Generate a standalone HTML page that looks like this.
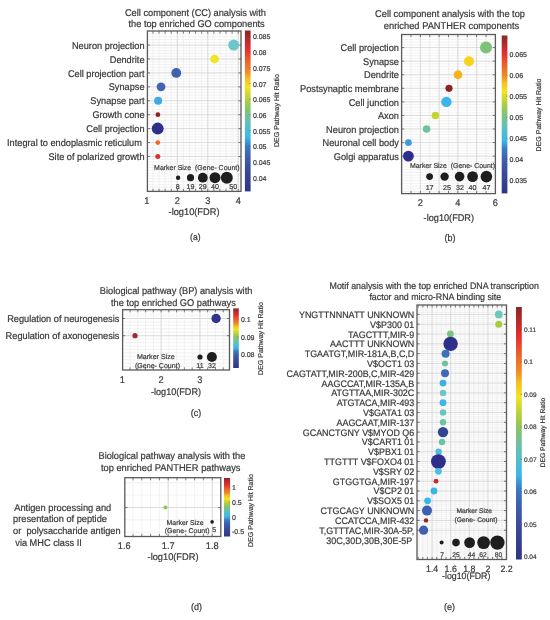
<!DOCTYPE html>
<html><head><meta charset="utf-8"><style>
html,body{margin:0;padding:0;background:#fff;}
svg{display:block;filter:blur(0.45px);}
text{font-family:"Liberation Sans",sans-serif;white-space:pre;text-rendering:geometricPrecision;stroke:#383838;stroke-width:0.2px;}
</style></head><body>
<svg width="550" height="620" viewBox="0 0 550 620">
<rect width="550" height="620" fill="#fff"/>
<rect x="147.40" y="31.00" width="93.60" height="160.40" fill="#fff"/>
<line x1="152.99" y1="31.00" x2="152.99" y2="191.40" stroke="#eaeaea" stroke-width="0.6"/>
<line x1="159.07" y1="31.00" x2="159.07" y2="191.40" stroke="#eaeaea" stroke-width="0.6"/>
<line x1="165.16" y1="31.00" x2="165.16" y2="191.40" stroke="#eaeaea" stroke-width="0.6"/>
<line x1="171.24" y1="31.00" x2="171.24" y2="191.40" stroke="#eaeaea" stroke-width="0.6"/>
<line x1="177.33" y1="31.00" x2="177.33" y2="191.40" stroke="#eaeaea" stroke-width="0.6"/>
<line x1="183.42" y1="31.00" x2="183.42" y2="191.40" stroke="#eaeaea" stroke-width="0.6"/>
<line x1="189.50" y1="31.00" x2="189.50" y2="191.40" stroke="#eaeaea" stroke-width="0.6"/>
<line x1="195.59" y1="31.00" x2="195.59" y2="191.40" stroke="#eaeaea" stroke-width="0.6"/>
<line x1="201.67" y1="31.00" x2="201.67" y2="191.40" stroke="#eaeaea" stroke-width="0.6"/>
<line x1="207.76" y1="31.00" x2="207.76" y2="191.40" stroke="#eaeaea" stroke-width="0.6"/>
<line x1="213.85" y1="31.00" x2="213.85" y2="191.40" stroke="#eaeaea" stroke-width="0.6"/>
<line x1="219.93" y1="31.00" x2="219.93" y2="191.40" stroke="#eaeaea" stroke-width="0.6"/>
<line x1="226.02" y1="31.00" x2="226.02" y2="191.40" stroke="#eaeaea" stroke-width="0.6"/>
<line x1="232.10" y1="31.00" x2="232.10" y2="191.40" stroke="#eaeaea" stroke-width="0.6"/>
<line x1="238.19" y1="31.00" x2="238.19" y2="191.40" stroke="#eaeaea" stroke-width="0.6"/>
<line x1="147.40" y1="31.18" x2="241.00" y2="31.18" stroke="#eaeaea" stroke-width="0.6"/>
<line x1="147.40" y1="33.96" x2="241.00" y2="33.96" stroke="#eaeaea" stroke-width="0.6"/>
<line x1="147.40" y1="36.75" x2="241.00" y2="36.75" stroke="#eaeaea" stroke-width="0.6"/>
<line x1="147.40" y1="39.53" x2="241.00" y2="39.53" stroke="#eaeaea" stroke-width="0.6"/>
<line x1="147.40" y1="42.32" x2="241.00" y2="42.32" stroke="#eaeaea" stroke-width="0.6"/>
<line x1="147.40" y1="45.10" x2="241.00" y2="45.10" stroke="#eaeaea" stroke-width="0.6"/>
<line x1="147.40" y1="47.88" x2="241.00" y2="47.88" stroke="#eaeaea" stroke-width="0.6"/>
<line x1="147.40" y1="50.67" x2="241.00" y2="50.67" stroke="#eaeaea" stroke-width="0.6"/>
<line x1="147.40" y1="53.45" x2="241.00" y2="53.45" stroke="#eaeaea" stroke-width="0.6"/>
<line x1="147.40" y1="56.24" x2="241.00" y2="56.24" stroke="#eaeaea" stroke-width="0.6"/>
<line x1="147.40" y1="59.02" x2="241.00" y2="59.02" stroke="#eaeaea" stroke-width="0.6"/>
<line x1="147.40" y1="61.80" x2="241.00" y2="61.80" stroke="#eaeaea" stroke-width="0.6"/>
<line x1="147.40" y1="64.59" x2="241.00" y2="64.59" stroke="#eaeaea" stroke-width="0.6"/>
<line x1="147.40" y1="67.37" x2="241.00" y2="67.37" stroke="#eaeaea" stroke-width="0.6"/>
<line x1="147.40" y1="70.16" x2="241.00" y2="70.16" stroke="#eaeaea" stroke-width="0.6"/>
<line x1="147.40" y1="72.94" x2="241.00" y2="72.94" stroke="#eaeaea" stroke-width="0.6"/>
<line x1="147.40" y1="75.72" x2="241.00" y2="75.72" stroke="#eaeaea" stroke-width="0.6"/>
<line x1="147.40" y1="78.51" x2="241.00" y2="78.51" stroke="#eaeaea" stroke-width="0.6"/>
<line x1="147.40" y1="81.29" x2="241.00" y2="81.29" stroke="#eaeaea" stroke-width="0.6"/>
<line x1="147.40" y1="84.08" x2="241.00" y2="84.08" stroke="#eaeaea" stroke-width="0.6"/>
<line x1="147.40" y1="86.86" x2="241.00" y2="86.86" stroke="#eaeaea" stroke-width="0.6"/>
<line x1="147.40" y1="89.64" x2="241.00" y2="89.64" stroke="#eaeaea" stroke-width="0.6"/>
<line x1="147.40" y1="92.43" x2="241.00" y2="92.43" stroke="#eaeaea" stroke-width="0.6"/>
<line x1="147.40" y1="95.21" x2="241.00" y2="95.21" stroke="#eaeaea" stroke-width="0.6"/>
<line x1="147.40" y1="98.00" x2="241.00" y2="98.00" stroke="#eaeaea" stroke-width="0.6"/>
<line x1="147.40" y1="100.78" x2="241.00" y2="100.78" stroke="#eaeaea" stroke-width="0.6"/>
<line x1="147.40" y1="103.56" x2="241.00" y2="103.56" stroke="#eaeaea" stroke-width="0.6"/>
<line x1="147.40" y1="106.35" x2="241.00" y2="106.35" stroke="#eaeaea" stroke-width="0.6"/>
<line x1="147.40" y1="109.13" x2="241.00" y2="109.13" stroke="#eaeaea" stroke-width="0.6"/>
<line x1="147.40" y1="111.92" x2="241.00" y2="111.92" stroke="#eaeaea" stroke-width="0.6"/>
<line x1="147.40" y1="114.70" x2="241.00" y2="114.70" stroke="#eaeaea" stroke-width="0.6"/>
<line x1="147.40" y1="117.48" x2="241.00" y2="117.48" stroke="#eaeaea" stroke-width="0.6"/>
<line x1="147.40" y1="120.27" x2="241.00" y2="120.27" stroke="#eaeaea" stroke-width="0.6"/>
<line x1="147.40" y1="123.05" x2="241.00" y2="123.05" stroke="#eaeaea" stroke-width="0.6"/>
<line x1="147.40" y1="125.84" x2="241.00" y2="125.84" stroke="#eaeaea" stroke-width="0.6"/>
<line x1="147.40" y1="128.62" x2="241.00" y2="128.62" stroke="#eaeaea" stroke-width="0.6"/>
<line x1="147.40" y1="131.40" x2="241.00" y2="131.40" stroke="#eaeaea" stroke-width="0.6"/>
<line x1="147.40" y1="134.19" x2="241.00" y2="134.19" stroke="#eaeaea" stroke-width="0.6"/>
<line x1="147.40" y1="136.97" x2="241.00" y2="136.97" stroke="#eaeaea" stroke-width="0.6"/>
<line x1="147.40" y1="139.76" x2="241.00" y2="139.76" stroke="#eaeaea" stroke-width="0.6"/>
<line x1="147.40" y1="142.54" x2="241.00" y2="142.54" stroke="#eaeaea" stroke-width="0.6"/>
<line x1="147.40" y1="145.32" x2="241.00" y2="145.32" stroke="#eaeaea" stroke-width="0.6"/>
<line x1="147.40" y1="148.11" x2="241.00" y2="148.11" stroke="#eaeaea" stroke-width="0.6"/>
<line x1="147.40" y1="150.89" x2="241.00" y2="150.89" stroke="#eaeaea" stroke-width="0.6"/>
<line x1="147.40" y1="153.68" x2="241.00" y2="153.68" stroke="#eaeaea" stroke-width="0.6"/>
<line x1="147.40" y1="156.46" x2="241.00" y2="156.46" stroke="#eaeaea" stroke-width="0.6"/>
<line x1="147.40" y1="159.24" x2="241.00" y2="159.24" stroke="#eaeaea" stroke-width="0.6"/>
<line x1="147.40" y1="162.03" x2="241.00" y2="162.03" stroke="#eaeaea" stroke-width="0.6"/>
<line x1="147.40" y1="164.81" x2="241.00" y2="164.81" stroke="#eaeaea" stroke-width="0.6"/>
<line x1="147.40" y1="167.60" x2="241.00" y2="167.60" stroke="#eaeaea" stroke-width="0.6"/>
<line x1="147.40" y1="170.38" x2="241.00" y2="170.38" stroke="#eaeaea" stroke-width="0.6"/>
<line x1="147.40" y1="173.16" x2="241.00" y2="173.16" stroke="#eaeaea" stroke-width="0.6"/>
<line x1="147.40" y1="175.95" x2="241.00" y2="175.95" stroke="#eaeaea" stroke-width="0.6"/>
<line x1="147.40" y1="178.73" x2="241.00" y2="178.73" stroke="#eaeaea" stroke-width="0.6"/>
<line x1="147.40" y1="181.52" x2="241.00" y2="181.52" stroke="#eaeaea" stroke-width="0.6"/>
<line x1="147.40" y1="184.30" x2="241.00" y2="184.30" stroke="#eaeaea" stroke-width="0.6"/>
<line x1="147.40" y1="187.08" x2="241.00" y2="187.08" stroke="#eaeaea" stroke-width="0.6"/>
<line x1="147.40" y1="189.87" x2="241.00" y2="189.87" stroke="#eaeaea" stroke-width="0.6"/>
<line x1="177.33" y1="31.00" x2="177.33" y2="191.40" stroke="#d2d2d2" stroke-width="0.7"/>
<line x1="207.76" y1="31.00" x2="207.76" y2="191.40" stroke="#d2d2d2" stroke-width="0.7"/>
<line x1="238.19" y1="31.00" x2="238.19" y2="191.40" stroke="#d2d2d2" stroke-width="0.7"/>
<line x1="147.40" y1="45.10" x2="241.00" y2="45.10" stroke="#d2d2d2" stroke-width="0.7"/>
<line x1="147.40" y1="59.02" x2="241.00" y2="59.02" stroke="#d2d2d2" stroke-width="0.7"/>
<line x1="147.40" y1="72.94" x2="241.00" y2="72.94" stroke="#d2d2d2" stroke-width="0.7"/>
<line x1="147.40" y1="86.86" x2="241.00" y2="86.86" stroke="#d2d2d2" stroke-width="0.7"/>
<line x1="147.40" y1="100.78" x2="241.00" y2="100.78" stroke="#d2d2d2" stroke-width="0.7"/>
<line x1="147.40" y1="114.70" x2="241.00" y2="114.70" stroke="#d2d2d2" stroke-width="0.7"/>
<line x1="147.40" y1="128.62" x2="241.00" y2="128.62" stroke="#d2d2d2" stroke-width="0.7"/>
<line x1="147.40" y1="142.54" x2="241.00" y2="142.54" stroke="#d2d2d2" stroke-width="0.7"/>
<line x1="147.40" y1="156.46" x2="241.00" y2="156.46" stroke="#d2d2d2" stroke-width="0.7"/>
<line x1="152.99" y1="191.40" x2="152.99" y2="188.80" stroke="#5a5a5a" stroke-width="0.8"/>
<line x1="152.99" y1="31.00" x2="152.99" y2="33.60" stroke="#5a5a5a" stroke-width="0.8"/>
<line x1="159.07" y1="191.40" x2="159.07" y2="188.80" stroke="#5a5a5a" stroke-width="0.8"/>
<line x1="159.07" y1="31.00" x2="159.07" y2="33.60" stroke="#5a5a5a" stroke-width="0.8"/>
<line x1="165.16" y1="191.40" x2="165.16" y2="188.80" stroke="#5a5a5a" stroke-width="0.8"/>
<line x1="165.16" y1="31.00" x2="165.16" y2="33.60" stroke="#5a5a5a" stroke-width="0.8"/>
<line x1="171.24" y1="191.40" x2="171.24" y2="188.80" stroke="#5a5a5a" stroke-width="0.8"/>
<line x1="171.24" y1="31.00" x2="171.24" y2="33.60" stroke="#5a5a5a" stroke-width="0.8"/>
<line x1="177.33" y1="191.40" x2="177.33" y2="188.80" stroke="#5a5a5a" stroke-width="0.8"/>
<line x1="177.33" y1="31.00" x2="177.33" y2="33.60" stroke="#5a5a5a" stroke-width="0.8"/>
<line x1="183.42" y1="191.40" x2="183.42" y2="188.80" stroke="#5a5a5a" stroke-width="0.8"/>
<line x1="183.42" y1="31.00" x2="183.42" y2="33.60" stroke="#5a5a5a" stroke-width="0.8"/>
<line x1="189.50" y1="191.40" x2="189.50" y2="188.80" stroke="#5a5a5a" stroke-width="0.8"/>
<line x1="189.50" y1="31.00" x2="189.50" y2="33.60" stroke="#5a5a5a" stroke-width="0.8"/>
<line x1="195.59" y1="191.40" x2="195.59" y2="188.80" stroke="#5a5a5a" stroke-width="0.8"/>
<line x1="195.59" y1="31.00" x2="195.59" y2="33.60" stroke="#5a5a5a" stroke-width="0.8"/>
<line x1="201.67" y1="191.40" x2="201.67" y2="188.80" stroke="#5a5a5a" stroke-width="0.8"/>
<line x1="201.67" y1="31.00" x2="201.67" y2="33.60" stroke="#5a5a5a" stroke-width="0.8"/>
<line x1="207.76" y1="191.40" x2="207.76" y2="188.80" stroke="#5a5a5a" stroke-width="0.8"/>
<line x1="207.76" y1="31.00" x2="207.76" y2="33.60" stroke="#5a5a5a" stroke-width="0.8"/>
<line x1="213.85" y1="191.40" x2="213.85" y2="188.80" stroke="#5a5a5a" stroke-width="0.8"/>
<line x1="213.85" y1="31.00" x2="213.85" y2="33.60" stroke="#5a5a5a" stroke-width="0.8"/>
<line x1="219.93" y1="191.40" x2="219.93" y2="188.80" stroke="#5a5a5a" stroke-width="0.8"/>
<line x1="219.93" y1="31.00" x2="219.93" y2="33.60" stroke="#5a5a5a" stroke-width="0.8"/>
<line x1="226.02" y1="191.40" x2="226.02" y2="188.80" stroke="#5a5a5a" stroke-width="0.8"/>
<line x1="226.02" y1="31.00" x2="226.02" y2="33.60" stroke="#5a5a5a" stroke-width="0.8"/>
<line x1="232.10" y1="191.40" x2="232.10" y2="188.80" stroke="#5a5a5a" stroke-width="0.8"/>
<line x1="232.10" y1="31.00" x2="232.10" y2="33.60" stroke="#5a5a5a" stroke-width="0.8"/>
<line x1="238.19" y1="191.40" x2="238.19" y2="188.80" stroke="#5a5a5a" stroke-width="0.8"/>
<line x1="238.19" y1="31.00" x2="238.19" y2="33.60" stroke="#5a5a5a" stroke-width="0.8"/>
<line x1="147.40" y1="45.10" x2="150.00" y2="45.10" stroke="#5a5a5a" stroke-width="0.8"/>
<line x1="241.00" y1="45.10" x2="238.40" y2="45.10" stroke="#5a5a5a" stroke-width="0.8"/>
<line x1="147.40" y1="59.02" x2="150.00" y2="59.02" stroke="#5a5a5a" stroke-width="0.8"/>
<line x1="241.00" y1="59.02" x2="238.40" y2="59.02" stroke="#5a5a5a" stroke-width="0.8"/>
<line x1="147.40" y1="72.94" x2="150.00" y2="72.94" stroke="#5a5a5a" stroke-width="0.8"/>
<line x1="241.00" y1="72.94" x2="238.40" y2="72.94" stroke="#5a5a5a" stroke-width="0.8"/>
<line x1="147.40" y1="86.86" x2="150.00" y2="86.86" stroke="#5a5a5a" stroke-width="0.8"/>
<line x1="241.00" y1="86.86" x2="238.40" y2="86.86" stroke="#5a5a5a" stroke-width="0.8"/>
<line x1="147.40" y1="100.78" x2="150.00" y2="100.78" stroke="#5a5a5a" stroke-width="0.8"/>
<line x1="241.00" y1="100.78" x2="238.40" y2="100.78" stroke="#5a5a5a" stroke-width="0.8"/>
<line x1="147.40" y1="114.70" x2="150.00" y2="114.70" stroke="#5a5a5a" stroke-width="0.8"/>
<line x1="241.00" y1="114.70" x2="238.40" y2="114.70" stroke="#5a5a5a" stroke-width="0.8"/>
<line x1="147.40" y1="128.62" x2="150.00" y2="128.62" stroke="#5a5a5a" stroke-width="0.8"/>
<line x1="241.00" y1="128.62" x2="238.40" y2="128.62" stroke="#5a5a5a" stroke-width="0.8"/>
<line x1="147.40" y1="142.54" x2="150.00" y2="142.54" stroke="#5a5a5a" stroke-width="0.8"/>
<line x1="241.00" y1="142.54" x2="238.40" y2="142.54" stroke="#5a5a5a" stroke-width="0.8"/>
<line x1="147.40" y1="156.46" x2="150.00" y2="156.46" stroke="#5a5a5a" stroke-width="0.8"/>
<line x1="241.00" y1="156.46" x2="238.40" y2="156.46" stroke="#5a5a5a" stroke-width="0.8"/>
<rect x="147.40" y="31.00" width="93.60" height="160.40" fill="none" stroke="#5a5a5a" stroke-width="1.3"/>
<text transform="translate(195.40,16.10) scale(1,1.06)" x="0" y="0" font-size="9.22" text-anchor="middle" fill="#383838" textLength="140.9" lengthAdjust="spacingAndGlyphs">Cell component (CC) analysis with</text>
<text transform="translate(196.60,27.30) scale(1,1.06)" x="0" y="0" font-size="9.22" text-anchor="middle" fill="#383838" textLength="136.3" lengthAdjust="spacingAndGlyphs">the top enriched GO components</text>
<text transform="translate(144.50,48.70) scale(1,1.06)" x="0" y="0" font-size="9.2" text-anchor="end" fill="#383838">Neuron projection</text>
<text transform="translate(144.50,62.62) scale(1,1.06)" x="0" y="0" font-size="9.2" text-anchor="end" fill="#383838">Dendrite</text>
<text transform="translate(144.50,76.54) scale(1,1.06)" x="0" y="0" font-size="9.2" text-anchor="end" fill="#383838">Cell projection part</text>
<text transform="translate(144.50,90.46) scale(1,1.06)" x="0" y="0" font-size="9.2" text-anchor="end" fill="#383838">Synapse</text>
<text transform="translate(144.50,104.38) scale(1,1.06)" x="0" y="0" font-size="9.2" text-anchor="end" fill="#383838">Synapse part</text>
<text transform="translate(144.50,118.30) scale(1,1.06)" x="0" y="0" font-size="9.2" text-anchor="end" fill="#383838">Growth cone</text>
<text transform="translate(144.50,132.22) scale(1,1.06)" x="0" y="0" font-size="9.2" text-anchor="end" fill="#383838">Cell projection</text>
<text transform="translate(141.90,146.14) scale(1,1.06)" x="0" y="0" font-size="9.2" text-anchor="end" fill="#383838">Integral to endoplasmic reticulum</text>
<text transform="translate(144.50,160.06) scale(1,1.06)" x="0" y="0" font-size="9.2" text-anchor="end" fill="#383838">Site of polarized growth</text>
<circle cx="233.70" cy="45.10" r="5.50" fill="#6cc7c9"/>
<circle cx="214.60" cy="59.02" r="4.30" fill="#efe521"/>
<circle cx="176.30" cy="72.94" r="4.90" fill="#3e62b0"/>
<circle cx="161.00" cy="86.86" r="4.40" fill="#4264b3"/>
<circle cx="158.10" cy="100.78" r="4.00" fill="#3ea9e2"/>
<circle cx="157.90" cy="114.70" r="2.40" fill="#8e2222"/>
<circle cx="157.70" cy="128.62" r="6.00" fill="#2d2f8a"/>
<circle cx="157.80" cy="142.54" r="2.40" fill="#f06a2a"/>
<circle cx="157.80" cy="156.46" r="2.50" fill="#dc3030"/>
<text x="154.10" y="169.90" font-size="7.1" text-anchor="start" fill="#383838" textLength="85.4" lengthAdjust="spacingAndGlyphs">Marker Size  (Gene- Count)</text>
<circle cx="178.10" cy="177.70" r="2.20" fill="#1e1e1e"/>
<text x="177.70" y="188.80" font-size="7.1" text-anchor="middle" fill="#383838">8</text>
<circle cx="190.50" cy="177.70" r="3.60" fill="#1e1e1e"/>
<text x="190.50" y="188.80" font-size="7.1" text-anchor="middle" fill="#383838">19</text>
<circle cx="202.80" cy="177.70" r="4.90" fill="#1e1e1e"/>
<text x="202.80" y="188.80" font-size="7.1" text-anchor="middle" fill="#383838">29</text>
<circle cx="215.00" cy="177.70" r="5.50" fill="#1e1e1e"/>
<text x="215.00" y="188.80" font-size="7.1" text-anchor="middle" fill="#383838">40</text>
<circle cx="226.80" cy="177.70" r="6.00" fill="#1e1e1e"/>
<text x="233.20" y="188.80" font-size="7.1" text-anchor="middle" fill="#383838">50</text>
<text transform="translate(146.90,203.80) scale(1,1.06)" x="0" y="0" font-size="9.2" text-anchor="middle" fill="#383838">1</text>
<text transform="translate(177.33,203.80) scale(1,1.06)" x="0" y="0" font-size="9.2" text-anchor="middle" fill="#383838">2</text>
<text transform="translate(207.76,203.80) scale(1,1.06)" x="0" y="0" font-size="9.2" text-anchor="middle" fill="#383838">3</text>
<text transform="translate(238.19,203.80) scale(1,1.06)" x="0" y="0" font-size="9.2" text-anchor="middle" fill="#383838">4</text>
<text transform="translate(194.00,215.00) scale(1,1.06)" x="0" y="0" font-size="9.2" text-anchor="middle" fill="#383838" textLength="50.9" lengthAdjust="spacingAndGlyphs">-log10(FDR)</text>
<defs><linearGradient id="g0" x1="0" y1="1" x2="0" y2="0"><stop offset="0" stop-color="#2e3585"/><stop offset="0.13" stop-color="#3a4a98"/><stop offset="0.22" stop-color="#3d60b0"/><stop offset="0.28" stop-color="#3d7ac0"/><stop offset="0.335" stop-color="#3cb8e8"/><stop offset="0.42" stop-color="#5cc0c0"/><stop offset="0.46" stop-color="#70c0a0"/><stop offset="0.515" stop-color="#88c468"/><stop offset="0.565" stop-color="#b0cc40"/><stop offset="0.645" stop-color="#f0e424"/><stop offset="0.7" stop-color="#f5c020"/><stop offset="0.74" stop-color="#f08e28"/><stop offset="0.8" stop-color="#eb6a2c"/><stop offset="0.88" stop-color="#e83030"/><stop offset="1.0" stop-color="#8b2525"/></linearGradient></defs>
<rect x="244.90" y="30.50" width="5.70" height="160.90" fill="url(#g0)"/>
<line x1="250.60" y1="36.40" x2="249.40" y2="36.40" stroke="#5a5a5a" stroke-width="0.6"/>
<text x="252.90" y="39.40" font-size="7.0" text-anchor="start" fill="#383838">0.085</text>
<line x1="250.60" y1="52.10" x2="249.40" y2="52.10" stroke="#5a5a5a" stroke-width="0.6"/>
<text x="252.90" y="55.10" font-size="7.0" text-anchor="start" fill="#383838">0.08</text>
<line x1="250.60" y1="67.80" x2="249.40" y2="67.80" stroke="#5a5a5a" stroke-width="0.6"/>
<text x="252.90" y="70.80" font-size="7.0" text-anchor="start" fill="#383838">0.075</text>
<line x1="250.60" y1="83.50" x2="249.40" y2="83.50" stroke="#5a5a5a" stroke-width="0.6"/>
<text x="252.90" y="86.50" font-size="7.0" text-anchor="start" fill="#383838">0.07</text>
<line x1="250.60" y1="99.20" x2="249.40" y2="99.20" stroke="#5a5a5a" stroke-width="0.6"/>
<text x="252.90" y="102.20" font-size="7.0" text-anchor="start" fill="#383838">0.065</text>
<line x1="250.60" y1="114.90" x2="249.40" y2="114.90" stroke="#5a5a5a" stroke-width="0.6"/>
<text x="252.90" y="117.90" font-size="7.0" text-anchor="start" fill="#383838">0.06</text>
<line x1="250.60" y1="130.60" x2="249.40" y2="130.60" stroke="#5a5a5a" stroke-width="0.6"/>
<text x="252.90" y="133.60" font-size="7.0" text-anchor="start" fill="#383838">0.055</text>
<line x1="250.60" y1="146.30" x2="249.40" y2="146.30" stroke="#5a5a5a" stroke-width="0.6"/>
<text x="252.90" y="149.30" font-size="7.0" text-anchor="start" fill="#383838">0.05</text>
<line x1="250.60" y1="162.00" x2="249.40" y2="162.00" stroke="#5a5a5a" stroke-width="0.6"/>
<text x="252.90" y="165.00" font-size="7.0" text-anchor="start" fill="#383838">0.045</text>
<line x1="250.60" y1="177.70" x2="249.40" y2="177.70" stroke="#5a5a5a" stroke-width="0.6"/>
<text x="252.90" y="180.70" font-size="7.0" text-anchor="start" fill="#383838">0.04</text>
<text transform="translate(279.00,110.60) rotate(-90)" x="0" y="0" font-size="7.0" text-anchor="middle" fill="#383838">DEG Pathway Hit Ratio</text>
<text transform="translate(195.30,240.00) scale(1,1.06)" x="0" y="0" font-size="8.6" text-anchor="middle" fill="#383838">(a)</text>
<rect x="401.60" y="34.50" width="93.80" height="159.10" fill="#fff"/>
<line x1="410.98" y1="34.50" x2="410.98" y2="193.60" stroke="#eaeaea" stroke-width="0.6"/>
<line x1="420.36" y1="34.50" x2="420.36" y2="193.60" stroke="#eaeaea" stroke-width="0.6"/>
<line x1="429.74" y1="34.50" x2="429.74" y2="193.60" stroke="#eaeaea" stroke-width="0.6"/>
<line x1="439.12" y1="34.50" x2="439.12" y2="193.60" stroke="#eaeaea" stroke-width="0.6"/>
<line x1="448.50" y1="34.50" x2="448.50" y2="193.60" stroke="#eaeaea" stroke-width="0.6"/>
<line x1="457.88" y1="34.50" x2="457.88" y2="193.60" stroke="#eaeaea" stroke-width="0.6"/>
<line x1="467.26" y1="34.50" x2="467.26" y2="193.60" stroke="#eaeaea" stroke-width="0.6"/>
<line x1="476.64" y1="34.50" x2="476.64" y2="193.60" stroke="#eaeaea" stroke-width="0.6"/>
<line x1="486.02" y1="34.50" x2="486.02" y2="193.60" stroke="#eaeaea" stroke-width="0.6"/>
<line x1="401.60" y1="36.74" x2="495.40" y2="36.74" stroke="#eaeaea" stroke-width="0.6"/>
<line x1="401.60" y1="39.46" x2="495.40" y2="39.46" stroke="#eaeaea" stroke-width="0.6"/>
<line x1="401.60" y1="42.17" x2="495.40" y2="42.17" stroke="#eaeaea" stroke-width="0.6"/>
<line x1="401.60" y1="44.89" x2="495.40" y2="44.89" stroke="#eaeaea" stroke-width="0.6"/>
<line x1="401.60" y1="47.60" x2="495.40" y2="47.60" stroke="#eaeaea" stroke-width="0.6"/>
<line x1="401.60" y1="50.31" x2="495.40" y2="50.31" stroke="#eaeaea" stroke-width="0.6"/>
<line x1="401.60" y1="53.03" x2="495.40" y2="53.03" stroke="#eaeaea" stroke-width="0.6"/>
<line x1="401.60" y1="55.74" x2="495.40" y2="55.74" stroke="#eaeaea" stroke-width="0.6"/>
<line x1="401.60" y1="58.46" x2="495.40" y2="58.46" stroke="#eaeaea" stroke-width="0.6"/>
<line x1="401.60" y1="61.17" x2="495.40" y2="61.17" stroke="#eaeaea" stroke-width="0.6"/>
<line x1="401.60" y1="63.88" x2="495.40" y2="63.88" stroke="#eaeaea" stroke-width="0.6"/>
<line x1="401.60" y1="66.60" x2="495.40" y2="66.60" stroke="#eaeaea" stroke-width="0.6"/>
<line x1="401.60" y1="69.31" x2="495.40" y2="69.31" stroke="#eaeaea" stroke-width="0.6"/>
<line x1="401.60" y1="72.03" x2="495.40" y2="72.03" stroke="#eaeaea" stroke-width="0.6"/>
<line x1="401.60" y1="74.74" x2="495.40" y2="74.74" stroke="#eaeaea" stroke-width="0.6"/>
<line x1="401.60" y1="77.45" x2="495.40" y2="77.45" stroke="#eaeaea" stroke-width="0.6"/>
<line x1="401.60" y1="80.17" x2="495.40" y2="80.17" stroke="#eaeaea" stroke-width="0.6"/>
<line x1="401.60" y1="82.88" x2="495.40" y2="82.88" stroke="#eaeaea" stroke-width="0.6"/>
<line x1="401.60" y1="85.60" x2="495.40" y2="85.60" stroke="#eaeaea" stroke-width="0.6"/>
<line x1="401.60" y1="88.31" x2="495.40" y2="88.31" stroke="#eaeaea" stroke-width="0.6"/>
<line x1="401.60" y1="91.02" x2="495.40" y2="91.02" stroke="#eaeaea" stroke-width="0.6"/>
<line x1="401.60" y1="93.74" x2="495.40" y2="93.74" stroke="#eaeaea" stroke-width="0.6"/>
<line x1="401.60" y1="96.45" x2="495.40" y2="96.45" stroke="#eaeaea" stroke-width="0.6"/>
<line x1="401.60" y1="99.17" x2="495.40" y2="99.17" stroke="#eaeaea" stroke-width="0.6"/>
<line x1="401.60" y1="101.88" x2="495.40" y2="101.88" stroke="#eaeaea" stroke-width="0.6"/>
<line x1="401.60" y1="104.59" x2="495.40" y2="104.59" stroke="#eaeaea" stroke-width="0.6"/>
<line x1="401.60" y1="107.31" x2="495.40" y2="107.31" stroke="#eaeaea" stroke-width="0.6"/>
<line x1="401.60" y1="110.02" x2="495.40" y2="110.02" stroke="#eaeaea" stroke-width="0.6"/>
<line x1="401.60" y1="112.74" x2="495.40" y2="112.74" stroke="#eaeaea" stroke-width="0.6"/>
<line x1="401.60" y1="115.45" x2="495.40" y2="115.45" stroke="#eaeaea" stroke-width="0.6"/>
<line x1="401.60" y1="118.16" x2="495.40" y2="118.16" stroke="#eaeaea" stroke-width="0.6"/>
<line x1="401.60" y1="120.88" x2="495.40" y2="120.88" stroke="#eaeaea" stroke-width="0.6"/>
<line x1="401.60" y1="123.59" x2="495.40" y2="123.59" stroke="#eaeaea" stroke-width="0.6"/>
<line x1="401.60" y1="126.31" x2="495.40" y2="126.31" stroke="#eaeaea" stroke-width="0.6"/>
<line x1="401.60" y1="129.02" x2="495.40" y2="129.02" stroke="#eaeaea" stroke-width="0.6"/>
<line x1="401.60" y1="131.73" x2="495.40" y2="131.73" stroke="#eaeaea" stroke-width="0.6"/>
<line x1="401.60" y1="134.45" x2="495.40" y2="134.45" stroke="#eaeaea" stroke-width="0.6"/>
<line x1="401.60" y1="137.16" x2="495.40" y2="137.16" stroke="#eaeaea" stroke-width="0.6"/>
<line x1="401.60" y1="139.88" x2="495.40" y2="139.88" stroke="#eaeaea" stroke-width="0.6"/>
<line x1="401.60" y1="142.59" x2="495.40" y2="142.59" stroke="#eaeaea" stroke-width="0.6"/>
<line x1="401.60" y1="145.30" x2="495.40" y2="145.30" stroke="#eaeaea" stroke-width="0.6"/>
<line x1="401.60" y1="148.02" x2="495.40" y2="148.02" stroke="#eaeaea" stroke-width="0.6"/>
<line x1="401.60" y1="150.73" x2="495.40" y2="150.73" stroke="#eaeaea" stroke-width="0.6"/>
<line x1="401.60" y1="153.45" x2="495.40" y2="153.45" stroke="#eaeaea" stroke-width="0.6"/>
<line x1="401.60" y1="156.16" x2="495.40" y2="156.16" stroke="#eaeaea" stroke-width="0.6"/>
<line x1="401.60" y1="158.87" x2="495.40" y2="158.87" stroke="#eaeaea" stroke-width="0.6"/>
<line x1="401.60" y1="161.59" x2="495.40" y2="161.59" stroke="#eaeaea" stroke-width="0.6"/>
<line x1="401.60" y1="164.30" x2="495.40" y2="164.30" stroke="#eaeaea" stroke-width="0.6"/>
<line x1="401.60" y1="167.02" x2="495.40" y2="167.02" stroke="#eaeaea" stroke-width="0.6"/>
<line x1="401.60" y1="169.73" x2="495.40" y2="169.73" stroke="#eaeaea" stroke-width="0.6"/>
<line x1="401.60" y1="172.44" x2="495.40" y2="172.44" stroke="#eaeaea" stroke-width="0.6"/>
<line x1="401.60" y1="175.16" x2="495.40" y2="175.16" stroke="#eaeaea" stroke-width="0.6"/>
<line x1="401.60" y1="177.87" x2="495.40" y2="177.87" stroke="#eaeaea" stroke-width="0.6"/>
<line x1="401.60" y1="180.59" x2="495.40" y2="180.59" stroke="#eaeaea" stroke-width="0.6"/>
<line x1="401.60" y1="183.30" x2="495.40" y2="183.30" stroke="#eaeaea" stroke-width="0.6"/>
<line x1="401.60" y1="186.01" x2="495.40" y2="186.01" stroke="#eaeaea" stroke-width="0.6"/>
<line x1="401.60" y1="188.73" x2="495.40" y2="188.73" stroke="#eaeaea" stroke-width="0.6"/>
<line x1="401.60" y1="191.44" x2="495.40" y2="191.44" stroke="#eaeaea" stroke-width="0.6"/>
<line x1="420.36" y1="34.50" x2="420.36" y2="193.60" stroke="#d2d2d2" stroke-width="0.7"/>
<line x1="439.12" y1="34.50" x2="439.12" y2="193.60" stroke="#d2d2d2" stroke-width="0.7"/>
<line x1="457.88" y1="34.50" x2="457.88" y2="193.60" stroke="#d2d2d2" stroke-width="0.7"/>
<line x1="476.64" y1="34.50" x2="476.64" y2="193.60" stroke="#d2d2d2" stroke-width="0.7"/>
<line x1="401.60" y1="47.60" x2="495.40" y2="47.60" stroke="#d2d2d2" stroke-width="0.7"/>
<line x1="401.60" y1="61.17" x2="495.40" y2="61.17" stroke="#d2d2d2" stroke-width="0.7"/>
<line x1="401.60" y1="74.74" x2="495.40" y2="74.74" stroke="#d2d2d2" stroke-width="0.7"/>
<line x1="401.60" y1="88.31" x2="495.40" y2="88.31" stroke="#d2d2d2" stroke-width="0.7"/>
<line x1="401.60" y1="101.88" x2="495.40" y2="101.88" stroke="#d2d2d2" stroke-width="0.7"/>
<line x1="401.60" y1="115.45" x2="495.40" y2="115.45" stroke="#d2d2d2" stroke-width="0.7"/>
<line x1="401.60" y1="129.02" x2="495.40" y2="129.02" stroke="#d2d2d2" stroke-width="0.7"/>
<line x1="401.60" y1="142.59" x2="495.40" y2="142.59" stroke="#d2d2d2" stroke-width="0.7"/>
<line x1="401.60" y1="156.16" x2="495.40" y2="156.16" stroke="#d2d2d2" stroke-width="0.7"/>
<line x1="401.60" y1="193.60" x2="401.60" y2="191.00" stroke="#5a5a5a" stroke-width="0.8"/>
<line x1="401.60" y1="34.50" x2="401.60" y2="37.10" stroke="#5a5a5a" stroke-width="0.8"/>
<line x1="410.98" y1="193.60" x2="410.98" y2="191.00" stroke="#5a5a5a" stroke-width="0.8"/>
<line x1="410.98" y1="34.50" x2="410.98" y2="37.10" stroke="#5a5a5a" stroke-width="0.8"/>
<line x1="420.36" y1="193.60" x2="420.36" y2="191.00" stroke="#5a5a5a" stroke-width="0.8"/>
<line x1="420.36" y1="34.50" x2="420.36" y2="37.10" stroke="#5a5a5a" stroke-width="0.8"/>
<line x1="429.74" y1="193.60" x2="429.74" y2="191.00" stroke="#5a5a5a" stroke-width="0.8"/>
<line x1="429.74" y1="34.50" x2="429.74" y2="37.10" stroke="#5a5a5a" stroke-width="0.8"/>
<line x1="439.12" y1="193.60" x2="439.12" y2="191.00" stroke="#5a5a5a" stroke-width="0.8"/>
<line x1="439.12" y1="34.50" x2="439.12" y2="37.10" stroke="#5a5a5a" stroke-width="0.8"/>
<line x1="448.50" y1="193.60" x2="448.50" y2="191.00" stroke="#5a5a5a" stroke-width="0.8"/>
<line x1="448.50" y1="34.50" x2="448.50" y2="37.10" stroke="#5a5a5a" stroke-width="0.8"/>
<line x1="457.88" y1="193.60" x2="457.88" y2="191.00" stroke="#5a5a5a" stroke-width="0.8"/>
<line x1="457.88" y1="34.50" x2="457.88" y2="37.10" stroke="#5a5a5a" stroke-width="0.8"/>
<line x1="467.26" y1="193.60" x2="467.26" y2="191.00" stroke="#5a5a5a" stroke-width="0.8"/>
<line x1="467.26" y1="34.50" x2="467.26" y2="37.10" stroke="#5a5a5a" stroke-width="0.8"/>
<line x1="476.64" y1="193.60" x2="476.64" y2="191.00" stroke="#5a5a5a" stroke-width="0.8"/>
<line x1="476.64" y1="34.50" x2="476.64" y2="37.10" stroke="#5a5a5a" stroke-width="0.8"/>
<line x1="486.02" y1="193.60" x2="486.02" y2="191.00" stroke="#5a5a5a" stroke-width="0.8"/>
<line x1="486.02" y1="34.50" x2="486.02" y2="37.10" stroke="#5a5a5a" stroke-width="0.8"/>
<line x1="401.60" y1="47.60" x2="404.20" y2="47.60" stroke="#5a5a5a" stroke-width="0.8"/>
<line x1="495.40" y1="47.60" x2="492.80" y2="47.60" stroke="#5a5a5a" stroke-width="0.8"/>
<line x1="401.60" y1="61.17" x2="404.20" y2="61.17" stroke="#5a5a5a" stroke-width="0.8"/>
<line x1="495.40" y1="61.17" x2="492.80" y2="61.17" stroke="#5a5a5a" stroke-width="0.8"/>
<line x1="401.60" y1="74.74" x2="404.20" y2="74.74" stroke="#5a5a5a" stroke-width="0.8"/>
<line x1="495.40" y1="74.74" x2="492.80" y2="74.74" stroke="#5a5a5a" stroke-width="0.8"/>
<line x1="401.60" y1="88.31" x2="404.20" y2="88.31" stroke="#5a5a5a" stroke-width="0.8"/>
<line x1="495.40" y1="88.31" x2="492.80" y2="88.31" stroke="#5a5a5a" stroke-width="0.8"/>
<line x1="401.60" y1="101.88" x2="404.20" y2="101.88" stroke="#5a5a5a" stroke-width="0.8"/>
<line x1="495.40" y1="101.88" x2="492.80" y2="101.88" stroke="#5a5a5a" stroke-width="0.8"/>
<line x1="401.60" y1="115.45" x2="404.20" y2="115.45" stroke="#5a5a5a" stroke-width="0.8"/>
<line x1="495.40" y1="115.45" x2="492.80" y2="115.45" stroke="#5a5a5a" stroke-width="0.8"/>
<line x1="401.60" y1="129.02" x2="404.20" y2="129.02" stroke="#5a5a5a" stroke-width="0.8"/>
<line x1="495.40" y1="129.02" x2="492.80" y2="129.02" stroke="#5a5a5a" stroke-width="0.8"/>
<line x1="401.60" y1="142.59" x2="404.20" y2="142.59" stroke="#5a5a5a" stroke-width="0.8"/>
<line x1="495.40" y1="142.59" x2="492.80" y2="142.59" stroke="#5a5a5a" stroke-width="0.8"/>
<line x1="401.60" y1="156.16" x2="404.20" y2="156.16" stroke="#5a5a5a" stroke-width="0.8"/>
<line x1="495.40" y1="156.16" x2="492.80" y2="156.16" stroke="#5a5a5a" stroke-width="0.8"/>
<rect x="401.60" y="34.50" width="93.80" height="159.10" fill="none" stroke="#5a5a5a" stroke-width="1.3"/>
<text transform="translate(450.00,16.90) scale(1,1.06)" x="0" y="0" font-size="9.25" text-anchor="middle" fill="#383838" textLength="149.8" lengthAdjust="spacingAndGlyphs">Cell component analysis with the top</text>
<text transform="translate(451.50,29.00) scale(1,1.06)" x="0" y="0" font-size="9.25" text-anchor="middle" fill="#383838" textLength="135.3" lengthAdjust="spacingAndGlyphs">enriched PANTHER components</text>
<text transform="translate(398.90,51.30) scale(1,1.06)" x="0" y="0" font-size="9.22" text-anchor="end" fill="#383838">Cell projection</text>
<text transform="translate(398.90,64.87) scale(1,1.06)" x="0" y="0" font-size="9.22" text-anchor="end" fill="#383838">Synapse</text>
<text transform="translate(398.90,78.44) scale(1,1.06)" x="0" y="0" font-size="9.22" text-anchor="end" fill="#383838">Dendrite</text>
<text transform="translate(398.90,92.01) scale(1,1.06)" x="0" y="0" font-size="9.22" text-anchor="end" fill="#383838">Postsynaptic membrane</text>
<text transform="translate(398.90,105.58) scale(1,1.06)" x="0" y="0" font-size="9.22" text-anchor="end" fill="#383838">Cell junction</text>
<text transform="translate(398.90,119.15) scale(1,1.06)" x="0" y="0" font-size="9.22" text-anchor="end" fill="#383838">Axon</text>
<text transform="translate(398.90,132.72) scale(1,1.06)" x="0" y="0" font-size="9.22" text-anchor="end" fill="#383838">Neuron projection</text>
<text transform="translate(398.90,146.29) scale(1,1.06)" x="0" y="0" font-size="9.22" text-anchor="end" fill="#383838">Neuronal cell body</text>
<text transform="translate(398.90,159.86) scale(1,1.06)" x="0" y="0" font-size="9.22" text-anchor="end" fill="#383838">Golgi apparatus</text>
<circle cx="486.00" cy="47.60" r="6.00" fill="#7cc27a"/>
<circle cx="469.00" cy="61.17" r="5.00" fill="#f7d21d"/>
<circle cx="458.00" cy="74.74" r="4.40" fill="#f8b220"/>
<circle cx="449.00" cy="88.31" r="3.60" fill="#8a2424"/>
<circle cx="446.40" cy="101.88" r="5.20" fill="#3ab6ea"/>
<circle cx="435.40" cy="115.45" r="3.80" fill="#c5d52f"/>
<circle cx="426.60" cy="129.02" r="3.80" fill="#6dc39b"/>
<circle cx="408.40" cy="142.59" r="3.40" fill="#3d9bde"/>
<circle cx="408.40" cy="156.16" r="5.40" fill="#2d2f8c"/>
<text x="410.00" y="168.40" font-size="7.1" text-anchor="start" fill="#383838" textLength="85.0" lengthAdjust="spacingAndGlyphs">Marker Size  (Gene- Count)</text>
<circle cx="429.60" cy="176.60" r="3.40" fill="#1e1e1e"/>
<text x="429.60" y="189.50" font-size="7.1" text-anchor="middle" fill="#383838">17</text>
<circle cx="444.60" cy="176.60" r="4.20" fill="#1e1e1e"/>
<text x="447.00" y="189.50" font-size="7.1" text-anchor="middle" fill="#383838">25</text>
<circle cx="459.60" cy="176.60" r="4.80" fill="#1e1e1e"/>
<text x="460.00" y="189.50" font-size="7.1" text-anchor="middle" fill="#383838">32</text>
<circle cx="472.60" cy="176.60" r="5.40" fill="#1e1e1e"/>
<text x="472.40" y="189.50" font-size="7.1" text-anchor="middle" fill="#383838">40</text>
<circle cx="486.40" cy="176.60" r="5.80" fill="#1e1e1e"/>
<text x="486.40" y="189.50" font-size="7.1" text-anchor="middle" fill="#383838">47</text>
<text transform="translate(420.36,205.60) scale(1,1.06)" x="0" y="0" font-size="9.2" text-anchor="middle" fill="#383838">2</text>
<text transform="translate(457.88,205.60) scale(1,1.06)" x="0" y="0" font-size="9.2" text-anchor="middle" fill="#383838">4</text>
<text transform="translate(495.40,205.60) scale(1,1.06)" x="0" y="0" font-size="9.2" text-anchor="middle" fill="#383838">6</text>
<text transform="translate(448.80,221.00) scale(1,1.06)" x="0" y="0" font-size="9.2" text-anchor="middle" fill="#383838" textLength="50.4" lengthAdjust="spacingAndGlyphs">-log10(FDR)</text>
<defs><linearGradient id="g1" x1="0" y1="1" x2="0" y2="0"><stop offset="0" stop-color="#2e3585"/><stop offset="0.13" stop-color="#3a4a98"/><stop offset="0.22" stop-color="#3d60b0"/><stop offset="0.28" stop-color="#3d7ac0"/><stop offset="0.335" stop-color="#3cb8e8"/><stop offset="0.42" stop-color="#5cc0c0"/><stop offset="0.46" stop-color="#70c0a0"/><stop offset="0.515" stop-color="#88c468"/><stop offset="0.565" stop-color="#b0cc40"/><stop offset="0.645" stop-color="#f0e424"/><stop offset="0.7" stop-color="#f5c020"/><stop offset="0.74" stop-color="#f08e28"/><stop offset="0.8" stop-color="#eb6a2c"/><stop offset="0.88" stop-color="#e83030"/><stop offset="1.0" stop-color="#8b2525"/></linearGradient></defs>
<rect x="501.70" y="35.50" width="5.70" height="157.90" fill="url(#g1)"/>
<line x1="507.40" y1="54.00" x2="506.20" y2="54.00" stroke="#5a5a5a" stroke-width="0.6"/>
<text x="509.50" y="56.50" font-size="7.0" text-anchor="start" fill="#383838">0.065</text>
<line x1="507.40" y1="75.04" x2="506.20" y2="75.04" stroke="#5a5a5a" stroke-width="0.6"/>
<text x="509.50" y="77.54" font-size="7.0" text-anchor="start" fill="#383838">0.06</text>
<line x1="507.40" y1="96.08" x2="506.20" y2="96.08" stroke="#5a5a5a" stroke-width="0.6"/>
<text x="509.50" y="98.58" font-size="7.0" text-anchor="start" fill="#383838">0.055</text>
<line x1="507.40" y1="117.12" x2="506.20" y2="117.12" stroke="#5a5a5a" stroke-width="0.6"/>
<text x="509.50" y="119.62" font-size="7.0" text-anchor="start" fill="#383838">0.05</text>
<line x1="507.40" y1="138.16" x2="506.20" y2="138.16" stroke="#5a5a5a" stroke-width="0.6"/>
<text x="509.50" y="140.66" font-size="7.0" text-anchor="start" fill="#383838">0.045</text>
<line x1="507.40" y1="159.20" x2="506.20" y2="159.20" stroke="#5a5a5a" stroke-width="0.6"/>
<text x="509.50" y="161.70" font-size="7.0" text-anchor="start" fill="#383838">0.04</text>
<line x1="507.40" y1="180.24" x2="506.20" y2="180.24" stroke="#5a5a5a" stroke-width="0.6"/>
<text x="509.50" y="182.74" font-size="7.0" text-anchor="start" fill="#383838">0.035</text>
<text transform="translate(541.20,115.00) rotate(-90)" x="0" y="0" font-size="7.0" text-anchor="middle" fill="#383838">DEG Pathway Hit Ratio</text>
<text transform="translate(450.00,240.80) scale(1,1.06)" x="0" y="0" font-size="9.0" text-anchor="middle" fill="#383838">(b)</text>
<rect x="122.60" y="309.70" width="106.90" height="60.30" fill="#fff"/>
<line x1="130.06" y1="309.70" x2="130.06" y2="370.00" stroke="#eaeaea" stroke-width="0.6"/>
<line x1="137.82" y1="309.70" x2="137.82" y2="370.00" stroke="#eaeaea" stroke-width="0.6"/>
<line x1="145.58" y1="309.70" x2="145.58" y2="370.00" stroke="#eaeaea" stroke-width="0.6"/>
<line x1="153.34" y1="309.70" x2="153.34" y2="370.00" stroke="#eaeaea" stroke-width="0.6"/>
<line x1="161.10" y1="309.70" x2="161.10" y2="370.00" stroke="#eaeaea" stroke-width="0.6"/>
<line x1="168.86" y1="309.70" x2="168.86" y2="370.00" stroke="#eaeaea" stroke-width="0.6"/>
<line x1="176.62" y1="309.70" x2="176.62" y2="370.00" stroke="#eaeaea" stroke-width="0.6"/>
<line x1="184.38" y1="309.70" x2="184.38" y2="370.00" stroke="#eaeaea" stroke-width="0.6"/>
<line x1="192.14" y1="309.70" x2="192.14" y2="370.00" stroke="#eaeaea" stroke-width="0.6"/>
<line x1="199.90" y1="309.70" x2="199.90" y2="370.00" stroke="#eaeaea" stroke-width="0.6"/>
<line x1="207.66" y1="309.70" x2="207.66" y2="370.00" stroke="#eaeaea" stroke-width="0.6"/>
<line x1="215.42" y1="309.70" x2="215.42" y2="370.00" stroke="#eaeaea" stroke-width="0.6"/>
<line x1="223.18" y1="309.70" x2="223.18" y2="370.00" stroke="#eaeaea" stroke-width="0.6"/>
<line x1="122.60" y1="311.62" x2="229.50" y2="311.62" stroke="#eaeaea" stroke-width="0.6"/>
<line x1="122.60" y1="315.06" x2="229.50" y2="315.06" stroke="#eaeaea" stroke-width="0.6"/>
<line x1="122.60" y1="318.50" x2="229.50" y2="318.50" stroke="#eaeaea" stroke-width="0.6"/>
<line x1="122.60" y1="321.94" x2="229.50" y2="321.94" stroke="#eaeaea" stroke-width="0.6"/>
<line x1="122.60" y1="325.38" x2="229.50" y2="325.38" stroke="#eaeaea" stroke-width="0.6"/>
<line x1="122.60" y1="328.82" x2="229.50" y2="328.82" stroke="#eaeaea" stroke-width="0.6"/>
<line x1="122.60" y1="332.26" x2="229.50" y2="332.26" stroke="#eaeaea" stroke-width="0.6"/>
<line x1="122.60" y1="335.70" x2="229.50" y2="335.70" stroke="#eaeaea" stroke-width="0.6"/>
<line x1="122.60" y1="339.14" x2="229.50" y2="339.14" stroke="#eaeaea" stroke-width="0.6"/>
<line x1="122.60" y1="342.58" x2="229.50" y2="342.58" stroke="#eaeaea" stroke-width="0.6"/>
<line x1="122.60" y1="346.02" x2="229.50" y2="346.02" stroke="#eaeaea" stroke-width="0.6"/>
<line x1="122.60" y1="349.46" x2="229.50" y2="349.46" stroke="#eaeaea" stroke-width="0.6"/>
<line x1="122.60" y1="352.90" x2="229.50" y2="352.90" stroke="#eaeaea" stroke-width="0.6"/>
<line x1="122.60" y1="356.34" x2="229.50" y2="356.34" stroke="#eaeaea" stroke-width="0.6"/>
<line x1="122.60" y1="359.78" x2="229.50" y2="359.78" stroke="#eaeaea" stroke-width="0.6"/>
<line x1="122.60" y1="363.22" x2="229.50" y2="363.22" stroke="#eaeaea" stroke-width="0.6"/>
<line x1="122.60" y1="366.66" x2="229.50" y2="366.66" stroke="#eaeaea" stroke-width="0.6"/>
<line x1="161.10" y1="309.70" x2="161.10" y2="370.00" stroke="#d2d2d2" stroke-width="0.7"/>
<line x1="199.90" y1="309.70" x2="199.90" y2="370.00" stroke="#d2d2d2" stroke-width="0.7"/>
<line x1="122.60" y1="318.50" x2="229.50" y2="318.50" stroke="#d2d2d2" stroke-width="0.7"/>
<line x1="122.60" y1="335.70" x2="229.50" y2="335.70" stroke="#d2d2d2" stroke-width="0.7"/>
<line x1="130.06" y1="370.00" x2="130.06" y2="367.40" stroke="#5a5a5a" stroke-width="0.8"/>
<line x1="130.06" y1="309.70" x2="130.06" y2="312.30" stroke="#5a5a5a" stroke-width="0.8"/>
<line x1="137.82" y1="370.00" x2="137.82" y2="367.40" stroke="#5a5a5a" stroke-width="0.8"/>
<line x1="137.82" y1="309.70" x2="137.82" y2="312.30" stroke="#5a5a5a" stroke-width="0.8"/>
<line x1="145.58" y1="370.00" x2="145.58" y2="367.40" stroke="#5a5a5a" stroke-width="0.8"/>
<line x1="145.58" y1="309.70" x2="145.58" y2="312.30" stroke="#5a5a5a" stroke-width="0.8"/>
<line x1="153.34" y1="370.00" x2="153.34" y2="367.40" stroke="#5a5a5a" stroke-width="0.8"/>
<line x1="153.34" y1="309.70" x2="153.34" y2="312.30" stroke="#5a5a5a" stroke-width="0.8"/>
<line x1="161.10" y1="370.00" x2="161.10" y2="367.40" stroke="#5a5a5a" stroke-width="0.8"/>
<line x1="161.10" y1="309.70" x2="161.10" y2="312.30" stroke="#5a5a5a" stroke-width="0.8"/>
<line x1="168.86" y1="370.00" x2="168.86" y2="367.40" stroke="#5a5a5a" stroke-width="0.8"/>
<line x1="168.86" y1="309.70" x2="168.86" y2="312.30" stroke="#5a5a5a" stroke-width="0.8"/>
<line x1="176.62" y1="370.00" x2="176.62" y2="367.40" stroke="#5a5a5a" stroke-width="0.8"/>
<line x1="176.62" y1="309.70" x2="176.62" y2="312.30" stroke="#5a5a5a" stroke-width="0.8"/>
<line x1="184.38" y1="370.00" x2="184.38" y2="367.40" stroke="#5a5a5a" stroke-width="0.8"/>
<line x1="184.38" y1="309.70" x2="184.38" y2="312.30" stroke="#5a5a5a" stroke-width="0.8"/>
<line x1="192.14" y1="370.00" x2="192.14" y2="367.40" stroke="#5a5a5a" stroke-width="0.8"/>
<line x1="192.14" y1="309.70" x2="192.14" y2="312.30" stroke="#5a5a5a" stroke-width="0.8"/>
<line x1="199.90" y1="370.00" x2="199.90" y2="367.40" stroke="#5a5a5a" stroke-width="0.8"/>
<line x1="199.90" y1="309.70" x2="199.90" y2="312.30" stroke="#5a5a5a" stroke-width="0.8"/>
<line x1="207.66" y1="370.00" x2="207.66" y2="367.40" stroke="#5a5a5a" stroke-width="0.8"/>
<line x1="207.66" y1="309.70" x2="207.66" y2="312.30" stroke="#5a5a5a" stroke-width="0.8"/>
<line x1="215.42" y1="370.00" x2="215.42" y2="367.40" stroke="#5a5a5a" stroke-width="0.8"/>
<line x1="215.42" y1="309.70" x2="215.42" y2="312.30" stroke="#5a5a5a" stroke-width="0.8"/>
<line x1="223.18" y1="370.00" x2="223.18" y2="367.40" stroke="#5a5a5a" stroke-width="0.8"/>
<line x1="223.18" y1="309.70" x2="223.18" y2="312.30" stroke="#5a5a5a" stroke-width="0.8"/>
<line x1="122.60" y1="318.50" x2="125.20" y2="318.50" stroke="#5a5a5a" stroke-width="0.8"/>
<line x1="229.50" y1="318.50" x2="226.90" y2="318.50" stroke="#5a5a5a" stroke-width="0.8"/>
<line x1="122.60" y1="335.70" x2="125.20" y2="335.70" stroke="#5a5a5a" stroke-width="0.8"/>
<line x1="229.50" y1="335.70" x2="226.90" y2="335.70" stroke="#5a5a5a" stroke-width="0.8"/>
<rect x="122.60" y="309.70" width="106.90" height="60.30" fill="none" stroke="#5a5a5a" stroke-width="1.3"/>
<text transform="translate(176.10,293.80) scale(1,1.06)" x="0" y="0" font-size="9.25" text-anchor="middle" fill="#383838" textLength="152.5" lengthAdjust="spacingAndGlyphs">Biological pathway (BP) analysis with</text>
<text transform="translate(173.40,305.50) scale(1,1.06)" x="0" y="0" font-size="9.25" text-anchor="middle" fill="#383838" textLength="124.8" lengthAdjust="spacingAndGlyphs">the top enriched GO pathways</text>
<text transform="translate(119.40,321.80) scale(1,1.06)" x="0" y="0" font-size="9.22" text-anchor="end" fill="#383838">Regulation of neurogenesis</text>
<text transform="translate(119.40,339.00) scale(1,1.06)" x="0" y="0" font-size="9.22" text-anchor="end" fill="#383838">Regulation of axonogenesis</text>
<circle cx="216.10" cy="318.50" r="4.70" fill="#2e3590"/>
<circle cx="135.00" cy="335.70" r="2.60" fill="#a02a2a"/>
<text x="136.90" y="358.90" font-size="7.05" text-anchor="start" fill="#383838" textLength="37.8" lengthAdjust="spacingAndGlyphs">Marker Size</text>
<text x="135.00" y="367.60" font-size="7.05" text-anchor="start" fill="#383838" textLength="45.0" lengthAdjust="spacingAndGlyphs">(Gene- Count)</text>
<circle cx="200.00" cy="357.00" r="2.60" fill="#1e1e1e"/>
<circle cx="211.90" cy="357.00" r="5.00" fill="#1e1e1e"/>
<text x="200.00" y="367.60" font-size="7.05" text-anchor="middle" fill="#383838">11</text>
<text x="211.90" y="367.60" font-size="7.05" text-anchor="middle" fill="#383838">32</text>
<text transform="translate(122.30,382.50) scale(1,1.06)" x="0" y="0" font-size="9.2" text-anchor="middle" fill="#383838">1</text>
<text transform="translate(161.10,382.50) scale(1,1.06)" x="0" y="0" font-size="9.2" text-anchor="middle" fill="#383838">2</text>
<text transform="translate(199.90,382.50) scale(1,1.06)" x="0" y="0" font-size="9.2" text-anchor="middle" fill="#383838">3</text>
<text transform="translate(176.00,394.90) scale(1,1.06)" x="0" y="0" font-size="9.2" text-anchor="middle" fill="#383838" textLength="50.0" lengthAdjust="spacingAndGlyphs">-log10(FDR)</text>
<defs><linearGradient id="g2" x1="0" y1="1" x2="0" y2="0"><stop offset="0" stop-color="#2e3585"/><stop offset="0.13" stop-color="#3a4a98"/><stop offset="0.22" stop-color="#3d60b0"/><stop offset="0.28" stop-color="#3d7ac0"/><stop offset="0.335" stop-color="#3cb8e8"/><stop offset="0.42" stop-color="#5cc0c0"/><stop offset="0.46" stop-color="#70c0a0"/><stop offset="0.515" stop-color="#88c468"/><stop offset="0.565" stop-color="#b0cc40"/><stop offset="0.645" stop-color="#f0e424"/><stop offset="0.7" stop-color="#f5c020"/><stop offset="0.74" stop-color="#f08e28"/><stop offset="0.8" stop-color="#eb6a2c"/><stop offset="0.88" stop-color="#e83030"/><stop offset="1.0" stop-color="#8b2525"/></linearGradient></defs>
<rect x="233.20" y="308.40" width="5.60" height="59.60" fill="url(#g2)"/>
<line x1="238.80" y1="319.30" x2="237.60" y2="319.30" stroke="#5a5a5a" stroke-width="0.6"/>
<text x="240.90" y="321.80" font-size="7.0" text-anchor="start" fill="#383838">0.1</text>
<line x1="238.80" y1="337.00" x2="237.60" y2="337.00" stroke="#5a5a5a" stroke-width="0.6"/>
<text x="240.90" y="339.50" font-size="7.0" text-anchor="start" fill="#383838">0.09</text>
<line x1="238.80" y1="354.80" x2="237.60" y2="354.80" stroke="#5a5a5a" stroke-width="0.6"/>
<text x="240.90" y="357.30" font-size="7.0" text-anchor="start" fill="#383838">0.08</text>
<text transform="translate(263.30,338.50) rotate(-90)" x="0" y="0" font-size="7.0" text-anchor="middle" fill="#383838">DEG Pathway Hit Ratio</text>
<text transform="translate(196.10,415.60) scale(1,1.06)" x="0" y="0" font-size="9.0" text-anchor="middle" fill="#383838">(c)</text>
<rect x="124.80" y="477.70" width="96.00" height="58.80" fill="#fff"/>
<line x1="133.00" y1="477.70" x2="133.00" y2="536.50" stroke="#eaeaea" stroke-width="0.6"/>
<line x1="141.80" y1="477.70" x2="141.80" y2="536.50" stroke="#eaeaea" stroke-width="0.6"/>
<line x1="150.60" y1="477.70" x2="150.60" y2="536.50" stroke="#eaeaea" stroke-width="0.6"/>
<line x1="159.40" y1="477.70" x2="159.40" y2="536.50" stroke="#eaeaea" stroke-width="0.6"/>
<line x1="168.20" y1="477.70" x2="168.20" y2="536.50" stroke="#eaeaea" stroke-width="0.6"/>
<line x1="177.00" y1="477.70" x2="177.00" y2="536.50" stroke="#eaeaea" stroke-width="0.6"/>
<line x1="185.80" y1="477.70" x2="185.80" y2="536.50" stroke="#eaeaea" stroke-width="0.6"/>
<line x1="194.60" y1="477.70" x2="194.60" y2="536.50" stroke="#eaeaea" stroke-width="0.6"/>
<line x1="203.40" y1="477.70" x2="203.40" y2="536.50" stroke="#eaeaea" stroke-width="0.6"/>
<line x1="212.20" y1="477.70" x2="212.20" y2="536.50" stroke="#eaeaea" stroke-width="0.6"/>
<line x1="124.80" y1="482.70" x2="220.80" y2="482.70" stroke="#eaeaea" stroke-width="0.6"/>
<line x1="124.80" y1="495.10" x2="220.80" y2="495.10" stroke="#eaeaea" stroke-width="0.6"/>
<line x1="124.80" y1="507.50" x2="220.80" y2="507.50" stroke="#eaeaea" stroke-width="0.6"/>
<line x1="124.80" y1="519.90" x2="220.80" y2="519.90" stroke="#eaeaea" stroke-width="0.6"/>
<line x1="124.80" y1="532.30" x2="220.80" y2="532.30" stroke="#eaeaea" stroke-width="0.6"/>
<line x1="168.20" y1="477.70" x2="168.20" y2="536.50" stroke="#d2d2d2" stroke-width="0.7"/>
<line x1="212.20" y1="477.70" x2="212.20" y2="536.50" stroke="#d2d2d2" stroke-width="0.7"/>
<line x1="124.80" y1="507.50" x2="220.80" y2="507.50" stroke="#d2d2d2" stroke-width="0.7"/>
<line x1="133.00" y1="536.50" x2="133.00" y2="533.90" stroke="#5a5a5a" stroke-width="0.8"/>
<line x1="133.00" y1="477.70" x2="133.00" y2="480.30" stroke="#5a5a5a" stroke-width="0.8"/>
<line x1="141.80" y1="536.50" x2="141.80" y2="533.90" stroke="#5a5a5a" stroke-width="0.8"/>
<line x1="141.80" y1="477.70" x2="141.80" y2="480.30" stroke="#5a5a5a" stroke-width="0.8"/>
<line x1="150.60" y1="536.50" x2="150.60" y2="533.90" stroke="#5a5a5a" stroke-width="0.8"/>
<line x1="150.60" y1="477.70" x2="150.60" y2="480.30" stroke="#5a5a5a" stroke-width="0.8"/>
<line x1="159.40" y1="536.50" x2="159.40" y2="533.90" stroke="#5a5a5a" stroke-width="0.8"/>
<line x1="159.40" y1="477.70" x2="159.40" y2="480.30" stroke="#5a5a5a" stroke-width="0.8"/>
<line x1="168.20" y1="536.50" x2="168.20" y2="533.90" stroke="#5a5a5a" stroke-width="0.8"/>
<line x1="168.20" y1="477.70" x2="168.20" y2="480.30" stroke="#5a5a5a" stroke-width="0.8"/>
<line x1="177.00" y1="536.50" x2="177.00" y2="533.90" stroke="#5a5a5a" stroke-width="0.8"/>
<line x1="177.00" y1="477.70" x2="177.00" y2="480.30" stroke="#5a5a5a" stroke-width="0.8"/>
<line x1="185.80" y1="536.50" x2="185.80" y2="533.90" stroke="#5a5a5a" stroke-width="0.8"/>
<line x1="185.80" y1="477.70" x2="185.80" y2="480.30" stroke="#5a5a5a" stroke-width="0.8"/>
<line x1="194.60" y1="536.50" x2="194.60" y2="533.90" stroke="#5a5a5a" stroke-width="0.8"/>
<line x1="194.60" y1="477.70" x2="194.60" y2="480.30" stroke="#5a5a5a" stroke-width="0.8"/>
<line x1="203.40" y1="536.50" x2="203.40" y2="533.90" stroke="#5a5a5a" stroke-width="0.8"/>
<line x1="203.40" y1="477.70" x2="203.40" y2="480.30" stroke="#5a5a5a" stroke-width="0.8"/>
<line x1="212.20" y1="536.50" x2="212.20" y2="533.90" stroke="#5a5a5a" stroke-width="0.8"/>
<line x1="212.20" y1="477.70" x2="212.20" y2="480.30" stroke="#5a5a5a" stroke-width="0.8"/>
<line x1="124.80" y1="507.50" x2="127.40" y2="507.50" stroke="#5a5a5a" stroke-width="0.8"/>
<line x1="220.80" y1="507.50" x2="218.20" y2="507.50" stroke="#5a5a5a" stroke-width="0.8"/>
<rect x="124.80" y="477.70" width="96.00" height="58.80" fill="none" stroke="#5a5a5a" stroke-width="1.3"/>
<text transform="translate(171.90,458.80) scale(1,1.06)" x="0" y="0" font-size="9.25" text-anchor="middle" fill="#383838" textLength="146.9" lengthAdjust="spacingAndGlyphs">Biological pathway analysis with the</text>
<text transform="translate(170.70,470.50) scale(1,1.06)" x="0" y="0" font-size="9.25" text-anchor="middle" fill="#383838" textLength="139.6" lengthAdjust="spacingAndGlyphs">top enriched PANTHER pathways</text>
<text transform="translate(14.20,510.70) scale(1,1.06)" x="0" y="0" font-size="9.25" text-anchor="start" fill="#383838" textLength="97.1" lengthAdjust="spacingAndGlyphs">Antigen processing and</text>
<text transform="translate(13.10,522.30) scale(1,1.06)" x="0" y="0" font-size="9.25" text-anchor="start" fill="#383838" textLength="93.8" lengthAdjust="spacingAndGlyphs">presentation of peptide</text>
<text transform="translate(13.10,534.30) scale(1,1.06)" x="0" y="0" font-size="9.25" text-anchor="start" fill="#383838" textLength="107.5" lengthAdjust="spacingAndGlyphs">or  polysaccharide antigen</text>
<text transform="translate(15.30,546.30) scale(1,1.06)" x="0" y="0" font-size="9.25" text-anchor="start" fill="#383838" textLength="66.5" lengthAdjust="spacingAndGlyphs">via MHC class II</text>
<circle cx="165.40" cy="507.50" r="2.10" fill="#8ccc50"/>
<text x="166.50" y="524.50" font-size="7.0" text-anchor="start" fill="#383838" textLength="37.1" lengthAdjust="spacingAndGlyphs">Marker Size</text>
<text x="164.70" y="533.30" font-size="7.0" text-anchor="start" fill="#383838" textLength="44.8" lengthAdjust="spacingAndGlyphs">(Gene- Count)</text>
<circle cx="212.10" cy="521.90" r="1.80" fill="#1e1e1e"/>
<text x="214.30" y="532.40" font-size="7.0" text-anchor="middle" fill="#383838">5</text>
<text transform="translate(124.20,548.60) scale(1,1.06)" x="0" y="0" font-size="9.2" text-anchor="middle" fill="#383838">1.6</text>
<text transform="translate(168.20,548.60) scale(1,1.06)" x="0" y="0" font-size="9.2" text-anchor="middle" fill="#383838">1.7</text>
<text transform="translate(212.20,548.60) scale(1,1.06)" x="0" y="0" font-size="9.2" text-anchor="middle" fill="#383838">1.8</text>
<text transform="translate(173.00,560.10) scale(1,1.06)" x="0" y="0" font-size="9.2" text-anchor="middle" fill="#383838" textLength="50.9" lengthAdjust="spacingAndGlyphs">-log10(FDR)</text>
<defs><linearGradient id="g3" x1="0" y1="1" x2="0" y2="0"><stop offset="0" stop-color="#2e3585"/><stop offset="0.13" stop-color="#3a4a98"/><stop offset="0.22" stop-color="#3d60b0"/><stop offset="0.28" stop-color="#3d7ac0"/><stop offset="0.335" stop-color="#3cb8e8"/><stop offset="0.42" stop-color="#5cc0c0"/><stop offset="0.46" stop-color="#70c0a0"/><stop offset="0.515" stop-color="#88c468"/><stop offset="0.565" stop-color="#b0cc40"/><stop offset="0.645" stop-color="#f0e424"/><stop offset="0.7" stop-color="#f5c020"/><stop offset="0.74" stop-color="#f08e28"/><stop offset="0.8" stop-color="#eb6a2c"/><stop offset="0.88" stop-color="#e83030"/><stop offset="1.0" stop-color="#8b2525"/></linearGradient></defs>
<rect x="224.00" y="478.00" width="6.10" height="58.50" fill="url(#g3)"/>
<line x1="230.10" y1="487.80" x2="228.90" y2="487.80" stroke="#5a5a5a" stroke-width="0.6"/>
<text x="232.00" y="490.30" font-size="7.0" text-anchor="start" fill="#383838">1</text>
<line x1="230.10" y1="502.20" x2="228.90" y2="502.20" stroke="#5a5a5a" stroke-width="0.6"/>
<text x="232.00" y="504.70" font-size="7.0" text-anchor="start" fill="#383838">0.5</text>
<line x1="230.10" y1="517.00" x2="228.90" y2="517.00" stroke="#5a5a5a" stroke-width="0.6"/>
<text x="232.00" y="519.50" font-size="7.0" text-anchor="start" fill="#383838">0</text>
<line x1="230.10" y1="531.60" x2="228.90" y2="531.60" stroke="#5a5a5a" stroke-width="0.6"/>
<text x="232.00" y="534.10" font-size="7.0" text-anchor="start" fill="#383838">-0.5</text>
<text transform="translate(252.80,510.50) rotate(-90)" x="0" y="0" font-size="7.0" text-anchor="middle" fill="#383838">DEG Pathway Hit Ratio</text>
<text transform="translate(196.60,610.00) scale(1,1.06)" x="0" y="0" font-size="9.0" text-anchor="middle" fill="#383838">(d)</text>
<rect x="417.00" y="305.00" width="89.50" height="254.50" fill="#fff"/>
<line x1="418.15" y1="305.00" x2="418.15" y2="559.50" stroke="#eaeaea" stroke-width="0.6"/>
<line x1="422.80" y1="305.00" x2="422.80" y2="559.50" stroke="#eaeaea" stroke-width="0.6"/>
<line x1="427.45" y1="305.00" x2="427.45" y2="559.50" stroke="#eaeaea" stroke-width="0.6"/>
<line x1="432.10" y1="305.00" x2="432.10" y2="559.50" stroke="#eaeaea" stroke-width="0.6"/>
<line x1="436.75" y1="305.00" x2="436.75" y2="559.50" stroke="#eaeaea" stroke-width="0.6"/>
<line x1="441.40" y1="305.00" x2="441.40" y2="559.50" stroke="#eaeaea" stroke-width="0.6"/>
<line x1="446.05" y1="305.00" x2="446.05" y2="559.50" stroke="#eaeaea" stroke-width="0.6"/>
<line x1="450.70" y1="305.00" x2="450.70" y2="559.50" stroke="#eaeaea" stroke-width="0.6"/>
<line x1="455.35" y1="305.00" x2="455.35" y2="559.50" stroke="#eaeaea" stroke-width="0.6"/>
<line x1="460.00" y1="305.00" x2="460.00" y2="559.50" stroke="#eaeaea" stroke-width="0.6"/>
<line x1="464.65" y1="305.00" x2="464.65" y2="559.50" stroke="#eaeaea" stroke-width="0.6"/>
<line x1="469.30" y1="305.00" x2="469.30" y2="559.50" stroke="#eaeaea" stroke-width="0.6"/>
<line x1="473.95" y1="305.00" x2="473.95" y2="559.50" stroke="#eaeaea" stroke-width="0.6"/>
<line x1="478.60" y1="305.00" x2="478.60" y2="559.50" stroke="#eaeaea" stroke-width="0.6"/>
<line x1="483.25" y1="305.00" x2="483.25" y2="559.50" stroke="#eaeaea" stroke-width="0.6"/>
<line x1="487.90" y1="305.00" x2="487.90" y2="559.50" stroke="#eaeaea" stroke-width="0.6"/>
<line x1="492.55" y1="305.00" x2="492.55" y2="559.50" stroke="#eaeaea" stroke-width="0.6"/>
<line x1="497.20" y1="305.00" x2="497.20" y2="559.50" stroke="#eaeaea" stroke-width="0.6"/>
<line x1="501.85" y1="305.00" x2="501.85" y2="559.50" stroke="#eaeaea" stroke-width="0.6"/>
<line x1="506.50" y1="305.00" x2="506.50" y2="559.50" stroke="#eaeaea" stroke-width="0.6"/>
<line x1="417.00" y1="306.55" x2="506.50" y2="306.55" stroke="#eaeaea" stroke-width="0.6"/>
<line x1="417.00" y1="308.51" x2="506.50" y2="308.51" stroke="#eaeaea" stroke-width="0.6"/>
<line x1="417.00" y1="310.48" x2="506.50" y2="310.48" stroke="#eaeaea" stroke-width="0.6"/>
<line x1="417.00" y1="312.44" x2="506.50" y2="312.44" stroke="#eaeaea" stroke-width="0.6"/>
<line x1="417.00" y1="314.40" x2="506.50" y2="314.40" stroke="#eaeaea" stroke-width="0.6"/>
<line x1="417.00" y1="316.36" x2="506.50" y2="316.36" stroke="#eaeaea" stroke-width="0.6"/>
<line x1="417.00" y1="318.32" x2="506.50" y2="318.32" stroke="#eaeaea" stroke-width="0.6"/>
<line x1="417.00" y1="320.29" x2="506.50" y2="320.29" stroke="#eaeaea" stroke-width="0.6"/>
<line x1="417.00" y1="322.25" x2="506.50" y2="322.25" stroke="#eaeaea" stroke-width="0.6"/>
<line x1="417.00" y1="324.21" x2="506.50" y2="324.21" stroke="#eaeaea" stroke-width="0.6"/>
<line x1="417.00" y1="326.17" x2="506.50" y2="326.17" stroke="#eaeaea" stroke-width="0.6"/>
<line x1="417.00" y1="328.13" x2="506.50" y2="328.13" stroke="#eaeaea" stroke-width="0.6"/>
<line x1="417.00" y1="330.10" x2="506.50" y2="330.10" stroke="#eaeaea" stroke-width="0.6"/>
<line x1="417.00" y1="332.06" x2="506.50" y2="332.06" stroke="#eaeaea" stroke-width="0.6"/>
<line x1="417.00" y1="334.02" x2="506.50" y2="334.02" stroke="#eaeaea" stroke-width="0.6"/>
<line x1="417.00" y1="335.98" x2="506.50" y2="335.98" stroke="#eaeaea" stroke-width="0.6"/>
<line x1="417.00" y1="337.94" x2="506.50" y2="337.94" stroke="#eaeaea" stroke-width="0.6"/>
<line x1="417.00" y1="339.91" x2="506.50" y2="339.91" stroke="#eaeaea" stroke-width="0.6"/>
<line x1="417.00" y1="341.87" x2="506.50" y2="341.87" stroke="#eaeaea" stroke-width="0.6"/>
<line x1="417.00" y1="343.83" x2="506.50" y2="343.83" stroke="#eaeaea" stroke-width="0.6"/>
<line x1="417.00" y1="345.79" x2="506.50" y2="345.79" stroke="#eaeaea" stroke-width="0.6"/>
<line x1="417.00" y1="347.75" x2="506.50" y2="347.75" stroke="#eaeaea" stroke-width="0.6"/>
<line x1="417.00" y1="349.72" x2="506.50" y2="349.72" stroke="#eaeaea" stroke-width="0.6"/>
<line x1="417.00" y1="351.68" x2="506.50" y2="351.68" stroke="#eaeaea" stroke-width="0.6"/>
<line x1="417.00" y1="353.64" x2="506.50" y2="353.64" stroke="#eaeaea" stroke-width="0.6"/>
<line x1="417.00" y1="355.60" x2="506.50" y2="355.60" stroke="#eaeaea" stroke-width="0.6"/>
<line x1="417.00" y1="357.56" x2="506.50" y2="357.56" stroke="#eaeaea" stroke-width="0.6"/>
<line x1="417.00" y1="359.53" x2="506.50" y2="359.53" stroke="#eaeaea" stroke-width="0.6"/>
<line x1="417.00" y1="361.49" x2="506.50" y2="361.49" stroke="#eaeaea" stroke-width="0.6"/>
<line x1="417.00" y1="363.45" x2="506.50" y2="363.45" stroke="#eaeaea" stroke-width="0.6"/>
<line x1="417.00" y1="365.41" x2="506.50" y2="365.41" stroke="#eaeaea" stroke-width="0.6"/>
<line x1="417.00" y1="367.37" x2="506.50" y2="367.37" stroke="#eaeaea" stroke-width="0.6"/>
<line x1="417.00" y1="369.34" x2="506.50" y2="369.34" stroke="#eaeaea" stroke-width="0.6"/>
<line x1="417.00" y1="371.30" x2="506.50" y2="371.30" stroke="#eaeaea" stroke-width="0.6"/>
<line x1="417.00" y1="373.26" x2="506.50" y2="373.26" stroke="#eaeaea" stroke-width="0.6"/>
<line x1="417.00" y1="375.22" x2="506.50" y2="375.22" stroke="#eaeaea" stroke-width="0.6"/>
<line x1="417.00" y1="377.18" x2="506.50" y2="377.18" stroke="#eaeaea" stroke-width="0.6"/>
<line x1="417.00" y1="379.15" x2="506.50" y2="379.15" stroke="#eaeaea" stroke-width="0.6"/>
<line x1="417.00" y1="381.11" x2="506.50" y2="381.11" stroke="#eaeaea" stroke-width="0.6"/>
<line x1="417.00" y1="383.07" x2="506.50" y2="383.07" stroke="#eaeaea" stroke-width="0.6"/>
<line x1="417.00" y1="385.03" x2="506.50" y2="385.03" stroke="#eaeaea" stroke-width="0.6"/>
<line x1="417.00" y1="386.99" x2="506.50" y2="386.99" stroke="#eaeaea" stroke-width="0.6"/>
<line x1="417.00" y1="388.96" x2="506.50" y2="388.96" stroke="#eaeaea" stroke-width="0.6"/>
<line x1="417.00" y1="390.92" x2="506.50" y2="390.92" stroke="#eaeaea" stroke-width="0.6"/>
<line x1="417.00" y1="392.88" x2="506.50" y2="392.88" stroke="#eaeaea" stroke-width="0.6"/>
<line x1="417.00" y1="394.84" x2="506.50" y2="394.84" stroke="#eaeaea" stroke-width="0.6"/>
<line x1="417.00" y1="396.80" x2="506.50" y2="396.80" stroke="#eaeaea" stroke-width="0.6"/>
<line x1="417.00" y1="398.77" x2="506.50" y2="398.77" stroke="#eaeaea" stroke-width="0.6"/>
<line x1="417.00" y1="400.73" x2="506.50" y2="400.73" stroke="#eaeaea" stroke-width="0.6"/>
<line x1="417.00" y1="402.69" x2="506.50" y2="402.69" stroke="#eaeaea" stroke-width="0.6"/>
<line x1="417.00" y1="404.65" x2="506.50" y2="404.65" stroke="#eaeaea" stroke-width="0.6"/>
<line x1="417.00" y1="406.61" x2="506.50" y2="406.61" stroke="#eaeaea" stroke-width="0.6"/>
<line x1="417.00" y1="408.58" x2="506.50" y2="408.58" stroke="#eaeaea" stroke-width="0.6"/>
<line x1="417.00" y1="410.54" x2="506.50" y2="410.54" stroke="#eaeaea" stroke-width="0.6"/>
<line x1="417.00" y1="412.50" x2="506.50" y2="412.50" stroke="#eaeaea" stroke-width="0.6"/>
<line x1="417.00" y1="414.46" x2="506.50" y2="414.46" stroke="#eaeaea" stroke-width="0.6"/>
<line x1="417.00" y1="416.42" x2="506.50" y2="416.42" stroke="#eaeaea" stroke-width="0.6"/>
<line x1="417.00" y1="418.39" x2="506.50" y2="418.39" stroke="#eaeaea" stroke-width="0.6"/>
<line x1="417.00" y1="420.35" x2="506.50" y2="420.35" stroke="#eaeaea" stroke-width="0.6"/>
<line x1="417.00" y1="422.31" x2="506.50" y2="422.31" stroke="#eaeaea" stroke-width="0.6"/>
<line x1="417.00" y1="424.27" x2="506.50" y2="424.27" stroke="#eaeaea" stroke-width="0.6"/>
<line x1="417.00" y1="426.23" x2="506.50" y2="426.23" stroke="#eaeaea" stroke-width="0.6"/>
<line x1="417.00" y1="428.20" x2="506.50" y2="428.20" stroke="#eaeaea" stroke-width="0.6"/>
<line x1="417.00" y1="430.16" x2="506.50" y2="430.16" stroke="#eaeaea" stroke-width="0.6"/>
<line x1="417.00" y1="432.12" x2="506.50" y2="432.12" stroke="#eaeaea" stroke-width="0.6"/>
<line x1="417.00" y1="434.08" x2="506.50" y2="434.08" stroke="#eaeaea" stroke-width="0.6"/>
<line x1="417.00" y1="436.04" x2="506.50" y2="436.04" stroke="#eaeaea" stroke-width="0.6"/>
<line x1="417.00" y1="438.01" x2="506.50" y2="438.01" stroke="#eaeaea" stroke-width="0.6"/>
<line x1="417.00" y1="439.97" x2="506.50" y2="439.97" stroke="#eaeaea" stroke-width="0.6"/>
<line x1="417.00" y1="441.93" x2="506.50" y2="441.93" stroke="#eaeaea" stroke-width="0.6"/>
<line x1="417.00" y1="443.89" x2="506.50" y2="443.89" stroke="#eaeaea" stroke-width="0.6"/>
<line x1="417.00" y1="445.85" x2="506.50" y2="445.85" stroke="#eaeaea" stroke-width="0.6"/>
<line x1="417.00" y1="447.82" x2="506.50" y2="447.82" stroke="#eaeaea" stroke-width="0.6"/>
<line x1="417.00" y1="449.78" x2="506.50" y2="449.78" stroke="#eaeaea" stroke-width="0.6"/>
<line x1="417.00" y1="451.74" x2="506.50" y2="451.74" stroke="#eaeaea" stroke-width="0.6"/>
<line x1="417.00" y1="453.70" x2="506.50" y2="453.70" stroke="#eaeaea" stroke-width="0.6"/>
<line x1="417.00" y1="455.66" x2="506.50" y2="455.66" stroke="#eaeaea" stroke-width="0.6"/>
<line x1="417.00" y1="457.63" x2="506.50" y2="457.63" stroke="#eaeaea" stroke-width="0.6"/>
<line x1="417.00" y1="459.59" x2="506.50" y2="459.59" stroke="#eaeaea" stroke-width="0.6"/>
<line x1="417.00" y1="461.55" x2="506.50" y2="461.55" stroke="#eaeaea" stroke-width="0.6"/>
<line x1="417.00" y1="463.51" x2="506.50" y2="463.51" stroke="#eaeaea" stroke-width="0.6"/>
<line x1="417.00" y1="465.47" x2="506.50" y2="465.47" stroke="#eaeaea" stroke-width="0.6"/>
<line x1="417.00" y1="467.44" x2="506.50" y2="467.44" stroke="#eaeaea" stroke-width="0.6"/>
<line x1="417.00" y1="469.40" x2="506.50" y2="469.40" stroke="#eaeaea" stroke-width="0.6"/>
<line x1="417.00" y1="471.36" x2="506.50" y2="471.36" stroke="#eaeaea" stroke-width="0.6"/>
<line x1="417.00" y1="473.32" x2="506.50" y2="473.32" stroke="#eaeaea" stroke-width="0.6"/>
<line x1="417.00" y1="475.28" x2="506.50" y2="475.28" stroke="#eaeaea" stroke-width="0.6"/>
<line x1="417.00" y1="477.25" x2="506.50" y2="477.25" stroke="#eaeaea" stroke-width="0.6"/>
<line x1="417.00" y1="479.21" x2="506.50" y2="479.21" stroke="#eaeaea" stroke-width="0.6"/>
<line x1="417.00" y1="481.17" x2="506.50" y2="481.17" stroke="#eaeaea" stroke-width="0.6"/>
<line x1="417.00" y1="483.13" x2="506.50" y2="483.13" stroke="#eaeaea" stroke-width="0.6"/>
<line x1="417.00" y1="485.09" x2="506.50" y2="485.09" stroke="#eaeaea" stroke-width="0.6"/>
<line x1="417.00" y1="487.06" x2="506.50" y2="487.06" stroke="#eaeaea" stroke-width="0.6"/>
<line x1="417.00" y1="489.02" x2="506.50" y2="489.02" stroke="#eaeaea" stroke-width="0.6"/>
<line x1="417.00" y1="490.98" x2="506.50" y2="490.98" stroke="#eaeaea" stroke-width="0.6"/>
<line x1="417.00" y1="492.94" x2="506.50" y2="492.94" stroke="#eaeaea" stroke-width="0.6"/>
<line x1="417.00" y1="494.90" x2="506.50" y2="494.90" stroke="#eaeaea" stroke-width="0.6"/>
<line x1="417.00" y1="496.87" x2="506.50" y2="496.87" stroke="#eaeaea" stroke-width="0.6"/>
<line x1="417.00" y1="498.83" x2="506.50" y2="498.83" stroke="#eaeaea" stroke-width="0.6"/>
<line x1="417.00" y1="500.79" x2="506.50" y2="500.79" stroke="#eaeaea" stroke-width="0.6"/>
<line x1="417.00" y1="502.75" x2="506.50" y2="502.75" stroke="#eaeaea" stroke-width="0.6"/>
<line x1="417.00" y1="504.71" x2="506.50" y2="504.71" stroke="#eaeaea" stroke-width="0.6"/>
<line x1="417.00" y1="506.68" x2="506.50" y2="506.68" stroke="#eaeaea" stroke-width="0.6"/>
<line x1="417.00" y1="508.64" x2="506.50" y2="508.64" stroke="#eaeaea" stroke-width="0.6"/>
<line x1="417.00" y1="510.60" x2="506.50" y2="510.60" stroke="#eaeaea" stroke-width="0.6"/>
<line x1="417.00" y1="512.56" x2="506.50" y2="512.56" stroke="#eaeaea" stroke-width="0.6"/>
<line x1="417.00" y1="514.52" x2="506.50" y2="514.52" stroke="#eaeaea" stroke-width="0.6"/>
<line x1="417.00" y1="516.49" x2="506.50" y2="516.49" stroke="#eaeaea" stroke-width="0.6"/>
<line x1="417.00" y1="518.45" x2="506.50" y2="518.45" stroke="#eaeaea" stroke-width="0.6"/>
<line x1="417.00" y1="520.41" x2="506.50" y2="520.41" stroke="#eaeaea" stroke-width="0.6"/>
<line x1="417.00" y1="522.37" x2="506.50" y2="522.37" stroke="#eaeaea" stroke-width="0.6"/>
<line x1="417.00" y1="524.33" x2="506.50" y2="524.33" stroke="#eaeaea" stroke-width="0.6"/>
<line x1="417.00" y1="526.30" x2="506.50" y2="526.30" stroke="#eaeaea" stroke-width="0.6"/>
<line x1="417.00" y1="528.26" x2="506.50" y2="528.26" stroke="#eaeaea" stroke-width="0.6"/>
<line x1="417.00" y1="530.22" x2="506.50" y2="530.22" stroke="#eaeaea" stroke-width="0.6"/>
<line x1="417.00" y1="532.18" x2="506.50" y2="532.18" stroke="#eaeaea" stroke-width="0.6"/>
<line x1="417.00" y1="534.14" x2="506.50" y2="534.14" stroke="#eaeaea" stroke-width="0.6"/>
<line x1="417.00" y1="536.11" x2="506.50" y2="536.11" stroke="#eaeaea" stroke-width="0.6"/>
<line x1="417.00" y1="538.07" x2="506.50" y2="538.07" stroke="#eaeaea" stroke-width="0.6"/>
<line x1="417.00" y1="540.03" x2="506.50" y2="540.03" stroke="#eaeaea" stroke-width="0.6"/>
<line x1="417.00" y1="541.99" x2="506.50" y2="541.99" stroke="#eaeaea" stroke-width="0.6"/>
<line x1="417.00" y1="543.95" x2="506.50" y2="543.95" stroke="#eaeaea" stroke-width="0.6"/>
<line x1="417.00" y1="545.92" x2="506.50" y2="545.92" stroke="#eaeaea" stroke-width="0.6"/>
<line x1="417.00" y1="547.88" x2="506.50" y2="547.88" stroke="#eaeaea" stroke-width="0.6"/>
<line x1="417.00" y1="549.84" x2="506.50" y2="549.84" stroke="#eaeaea" stroke-width="0.6"/>
<line x1="417.00" y1="551.80" x2="506.50" y2="551.80" stroke="#eaeaea" stroke-width="0.6"/>
<line x1="417.00" y1="553.76" x2="506.50" y2="553.76" stroke="#eaeaea" stroke-width="0.6"/>
<line x1="417.00" y1="555.73" x2="506.50" y2="555.73" stroke="#eaeaea" stroke-width="0.6"/>
<line x1="417.00" y1="557.69" x2="506.50" y2="557.69" stroke="#eaeaea" stroke-width="0.6"/>
<line x1="432.10" y1="305.00" x2="432.10" y2="559.50" stroke="#d2d2d2" stroke-width="0.7"/>
<line x1="450.70" y1="305.00" x2="450.70" y2="559.50" stroke="#d2d2d2" stroke-width="0.7"/>
<line x1="469.30" y1="305.00" x2="469.30" y2="559.50" stroke="#d2d2d2" stroke-width="0.7"/>
<line x1="487.90" y1="305.00" x2="487.90" y2="559.50" stroke="#d2d2d2" stroke-width="0.7"/>
<line x1="417.00" y1="314.40" x2="506.50" y2="314.40" stroke="#d2d2d2" stroke-width="0.7"/>
<line x1="417.00" y1="324.21" x2="506.50" y2="324.21" stroke="#d2d2d2" stroke-width="0.7"/>
<line x1="417.00" y1="334.02" x2="506.50" y2="334.02" stroke="#d2d2d2" stroke-width="0.7"/>
<line x1="417.00" y1="343.83" x2="506.50" y2="343.83" stroke="#d2d2d2" stroke-width="0.7"/>
<line x1="417.00" y1="353.64" x2="506.50" y2="353.64" stroke="#d2d2d2" stroke-width="0.7"/>
<line x1="417.00" y1="363.45" x2="506.50" y2="363.45" stroke="#d2d2d2" stroke-width="0.7"/>
<line x1="417.00" y1="373.26" x2="506.50" y2="373.26" stroke="#d2d2d2" stroke-width="0.7"/>
<line x1="417.00" y1="383.07" x2="506.50" y2="383.07" stroke="#d2d2d2" stroke-width="0.7"/>
<line x1="417.00" y1="392.88" x2="506.50" y2="392.88" stroke="#d2d2d2" stroke-width="0.7"/>
<line x1="417.00" y1="402.69" x2="506.50" y2="402.69" stroke="#d2d2d2" stroke-width="0.7"/>
<line x1="417.00" y1="412.50" x2="506.50" y2="412.50" stroke="#d2d2d2" stroke-width="0.7"/>
<line x1="417.00" y1="422.31" x2="506.50" y2="422.31" stroke="#d2d2d2" stroke-width="0.7"/>
<line x1="417.00" y1="432.12" x2="506.50" y2="432.12" stroke="#d2d2d2" stroke-width="0.7"/>
<line x1="417.00" y1="441.93" x2="506.50" y2="441.93" stroke="#d2d2d2" stroke-width="0.7"/>
<line x1="417.00" y1="451.74" x2="506.50" y2="451.74" stroke="#d2d2d2" stroke-width="0.7"/>
<line x1="417.00" y1="461.55" x2="506.50" y2="461.55" stroke="#d2d2d2" stroke-width="0.7"/>
<line x1="417.00" y1="471.36" x2="506.50" y2="471.36" stroke="#d2d2d2" stroke-width="0.7"/>
<line x1="417.00" y1="481.17" x2="506.50" y2="481.17" stroke="#d2d2d2" stroke-width="0.7"/>
<line x1="417.00" y1="490.98" x2="506.50" y2="490.98" stroke="#d2d2d2" stroke-width="0.7"/>
<line x1="417.00" y1="500.79" x2="506.50" y2="500.79" stroke="#d2d2d2" stroke-width="0.7"/>
<line x1="417.00" y1="510.60" x2="506.50" y2="510.60" stroke="#d2d2d2" stroke-width="0.7"/>
<line x1="417.00" y1="520.41" x2="506.50" y2="520.41" stroke="#d2d2d2" stroke-width="0.7"/>
<line x1="417.00" y1="530.22" x2="506.50" y2="530.22" stroke="#d2d2d2" stroke-width="0.7"/>
<line x1="418.15" y1="559.50" x2="418.15" y2="556.90" stroke="#5a5a5a" stroke-width="0.8"/>
<line x1="418.15" y1="305.00" x2="418.15" y2="307.60" stroke="#5a5a5a" stroke-width="0.8"/>
<line x1="422.80" y1="559.50" x2="422.80" y2="556.90" stroke="#5a5a5a" stroke-width="0.8"/>
<line x1="422.80" y1="305.00" x2="422.80" y2="307.60" stroke="#5a5a5a" stroke-width="0.8"/>
<line x1="427.45" y1="559.50" x2="427.45" y2="556.90" stroke="#5a5a5a" stroke-width="0.8"/>
<line x1="427.45" y1="305.00" x2="427.45" y2="307.60" stroke="#5a5a5a" stroke-width="0.8"/>
<line x1="432.10" y1="559.50" x2="432.10" y2="556.90" stroke="#5a5a5a" stroke-width="0.8"/>
<line x1="432.10" y1="305.00" x2="432.10" y2="307.60" stroke="#5a5a5a" stroke-width="0.8"/>
<line x1="436.75" y1="559.50" x2="436.75" y2="556.90" stroke="#5a5a5a" stroke-width="0.8"/>
<line x1="436.75" y1="305.00" x2="436.75" y2="307.60" stroke="#5a5a5a" stroke-width="0.8"/>
<line x1="441.40" y1="559.50" x2="441.40" y2="556.90" stroke="#5a5a5a" stroke-width="0.8"/>
<line x1="441.40" y1="305.00" x2="441.40" y2="307.60" stroke="#5a5a5a" stroke-width="0.8"/>
<line x1="446.05" y1="559.50" x2="446.05" y2="556.90" stroke="#5a5a5a" stroke-width="0.8"/>
<line x1="446.05" y1="305.00" x2="446.05" y2="307.60" stroke="#5a5a5a" stroke-width="0.8"/>
<line x1="450.70" y1="559.50" x2="450.70" y2="556.90" stroke="#5a5a5a" stroke-width="0.8"/>
<line x1="450.70" y1="305.00" x2="450.70" y2="307.60" stroke="#5a5a5a" stroke-width="0.8"/>
<line x1="455.35" y1="559.50" x2="455.35" y2="556.90" stroke="#5a5a5a" stroke-width="0.8"/>
<line x1="455.35" y1="305.00" x2="455.35" y2="307.60" stroke="#5a5a5a" stroke-width="0.8"/>
<line x1="460.00" y1="559.50" x2="460.00" y2="556.90" stroke="#5a5a5a" stroke-width="0.8"/>
<line x1="460.00" y1="305.00" x2="460.00" y2="307.60" stroke="#5a5a5a" stroke-width="0.8"/>
<line x1="464.65" y1="559.50" x2="464.65" y2="556.90" stroke="#5a5a5a" stroke-width="0.8"/>
<line x1="464.65" y1="305.00" x2="464.65" y2="307.60" stroke="#5a5a5a" stroke-width="0.8"/>
<line x1="469.30" y1="559.50" x2="469.30" y2="556.90" stroke="#5a5a5a" stroke-width="0.8"/>
<line x1="469.30" y1="305.00" x2="469.30" y2="307.60" stroke="#5a5a5a" stroke-width="0.8"/>
<line x1="473.95" y1="559.50" x2="473.95" y2="556.90" stroke="#5a5a5a" stroke-width="0.8"/>
<line x1="473.95" y1="305.00" x2="473.95" y2="307.60" stroke="#5a5a5a" stroke-width="0.8"/>
<line x1="478.60" y1="559.50" x2="478.60" y2="556.90" stroke="#5a5a5a" stroke-width="0.8"/>
<line x1="478.60" y1="305.00" x2="478.60" y2="307.60" stroke="#5a5a5a" stroke-width="0.8"/>
<line x1="483.25" y1="559.50" x2="483.25" y2="556.90" stroke="#5a5a5a" stroke-width="0.8"/>
<line x1="483.25" y1="305.00" x2="483.25" y2="307.60" stroke="#5a5a5a" stroke-width="0.8"/>
<line x1="487.90" y1="559.50" x2="487.90" y2="556.90" stroke="#5a5a5a" stroke-width="0.8"/>
<line x1="487.90" y1="305.00" x2="487.90" y2="307.60" stroke="#5a5a5a" stroke-width="0.8"/>
<line x1="492.55" y1="559.50" x2="492.55" y2="556.90" stroke="#5a5a5a" stroke-width="0.8"/>
<line x1="492.55" y1="305.00" x2="492.55" y2="307.60" stroke="#5a5a5a" stroke-width="0.8"/>
<line x1="497.20" y1="559.50" x2="497.20" y2="556.90" stroke="#5a5a5a" stroke-width="0.8"/>
<line x1="497.20" y1="305.00" x2="497.20" y2="307.60" stroke="#5a5a5a" stroke-width="0.8"/>
<line x1="501.85" y1="559.50" x2="501.85" y2="556.90" stroke="#5a5a5a" stroke-width="0.8"/>
<line x1="501.85" y1="305.00" x2="501.85" y2="307.60" stroke="#5a5a5a" stroke-width="0.8"/>
<line x1="506.50" y1="559.50" x2="506.50" y2="556.90" stroke="#5a5a5a" stroke-width="0.8"/>
<line x1="506.50" y1="305.00" x2="506.50" y2="307.60" stroke="#5a5a5a" stroke-width="0.8"/>
<line x1="417.00" y1="314.40" x2="419.60" y2="314.40" stroke="#5a5a5a" stroke-width="0.8"/>
<line x1="506.50" y1="314.40" x2="503.90" y2="314.40" stroke="#5a5a5a" stroke-width="0.8"/>
<line x1="417.00" y1="324.21" x2="419.60" y2="324.21" stroke="#5a5a5a" stroke-width="0.8"/>
<line x1="506.50" y1="324.21" x2="503.90" y2="324.21" stroke="#5a5a5a" stroke-width="0.8"/>
<line x1="417.00" y1="334.02" x2="419.60" y2="334.02" stroke="#5a5a5a" stroke-width="0.8"/>
<line x1="506.50" y1="334.02" x2="503.90" y2="334.02" stroke="#5a5a5a" stroke-width="0.8"/>
<line x1="417.00" y1="343.83" x2="419.60" y2="343.83" stroke="#5a5a5a" stroke-width="0.8"/>
<line x1="506.50" y1="343.83" x2="503.90" y2="343.83" stroke="#5a5a5a" stroke-width="0.8"/>
<line x1="417.00" y1="353.64" x2="419.60" y2="353.64" stroke="#5a5a5a" stroke-width="0.8"/>
<line x1="506.50" y1="353.64" x2="503.90" y2="353.64" stroke="#5a5a5a" stroke-width="0.8"/>
<line x1="417.00" y1="363.45" x2="419.60" y2="363.45" stroke="#5a5a5a" stroke-width="0.8"/>
<line x1="506.50" y1="363.45" x2="503.90" y2="363.45" stroke="#5a5a5a" stroke-width="0.8"/>
<line x1="417.00" y1="373.26" x2="419.60" y2="373.26" stroke="#5a5a5a" stroke-width="0.8"/>
<line x1="506.50" y1="373.26" x2="503.90" y2="373.26" stroke="#5a5a5a" stroke-width="0.8"/>
<line x1="417.00" y1="383.07" x2="419.60" y2="383.07" stroke="#5a5a5a" stroke-width="0.8"/>
<line x1="506.50" y1="383.07" x2="503.90" y2="383.07" stroke="#5a5a5a" stroke-width="0.8"/>
<line x1="417.00" y1="392.88" x2="419.60" y2="392.88" stroke="#5a5a5a" stroke-width="0.8"/>
<line x1="506.50" y1="392.88" x2="503.90" y2="392.88" stroke="#5a5a5a" stroke-width="0.8"/>
<line x1="417.00" y1="402.69" x2="419.60" y2="402.69" stroke="#5a5a5a" stroke-width="0.8"/>
<line x1="506.50" y1="402.69" x2="503.90" y2="402.69" stroke="#5a5a5a" stroke-width="0.8"/>
<line x1="417.00" y1="412.50" x2="419.60" y2="412.50" stroke="#5a5a5a" stroke-width="0.8"/>
<line x1="506.50" y1="412.50" x2="503.90" y2="412.50" stroke="#5a5a5a" stroke-width="0.8"/>
<line x1="417.00" y1="422.31" x2="419.60" y2="422.31" stroke="#5a5a5a" stroke-width="0.8"/>
<line x1="506.50" y1="422.31" x2="503.90" y2="422.31" stroke="#5a5a5a" stroke-width="0.8"/>
<line x1="417.00" y1="432.12" x2="419.60" y2="432.12" stroke="#5a5a5a" stroke-width="0.8"/>
<line x1="506.50" y1="432.12" x2="503.90" y2="432.12" stroke="#5a5a5a" stroke-width="0.8"/>
<line x1="417.00" y1="441.93" x2="419.60" y2="441.93" stroke="#5a5a5a" stroke-width="0.8"/>
<line x1="506.50" y1="441.93" x2="503.90" y2="441.93" stroke="#5a5a5a" stroke-width="0.8"/>
<line x1="417.00" y1="451.74" x2="419.60" y2="451.74" stroke="#5a5a5a" stroke-width="0.8"/>
<line x1="506.50" y1="451.74" x2="503.90" y2="451.74" stroke="#5a5a5a" stroke-width="0.8"/>
<line x1="417.00" y1="461.55" x2="419.60" y2="461.55" stroke="#5a5a5a" stroke-width="0.8"/>
<line x1="506.50" y1="461.55" x2="503.90" y2="461.55" stroke="#5a5a5a" stroke-width="0.8"/>
<line x1="417.00" y1="471.36" x2="419.60" y2="471.36" stroke="#5a5a5a" stroke-width="0.8"/>
<line x1="506.50" y1="471.36" x2="503.90" y2="471.36" stroke="#5a5a5a" stroke-width="0.8"/>
<line x1="417.00" y1="481.17" x2="419.60" y2="481.17" stroke="#5a5a5a" stroke-width="0.8"/>
<line x1="506.50" y1="481.17" x2="503.90" y2="481.17" stroke="#5a5a5a" stroke-width="0.8"/>
<line x1="417.00" y1="490.98" x2="419.60" y2="490.98" stroke="#5a5a5a" stroke-width="0.8"/>
<line x1="506.50" y1="490.98" x2="503.90" y2="490.98" stroke="#5a5a5a" stroke-width="0.8"/>
<line x1="417.00" y1="500.79" x2="419.60" y2="500.79" stroke="#5a5a5a" stroke-width="0.8"/>
<line x1="506.50" y1="500.79" x2="503.90" y2="500.79" stroke="#5a5a5a" stroke-width="0.8"/>
<line x1="417.00" y1="510.60" x2="419.60" y2="510.60" stroke="#5a5a5a" stroke-width="0.8"/>
<line x1="506.50" y1="510.60" x2="503.90" y2="510.60" stroke="#5a5a5a" stroke-width="0.8"/>
<line x1="417.00" y1="520.41" x2="419.60" y2="520.41" stroke="#5a5a5a" stroke-width="0.8"/>
<line x1="506.50" y1="520.41" x2="503.90" y2="520.41" stroke="#5a5a5a" stroke-width="0.8"/>
<line x1="417.00" y1="530.22" x2="419.60" y2="530.22" stroke="#5a5a5a" stroke-width="0.8"/>
<line x1="506.50" y1="530.22" x2="503.90" y2="530.22" stroke="#5a5a5a" stroke-width="0.8"/>
<rect x="417.00" y="305.00" width="89.50" height="254.50" fill="none" stroke="#5a5a5a" stroke-width="1.3"/>
<text transform="translate(434.20,288.50) scale(1,1.06)" x="0" y="0" font-size="8.85" text-anchor="middle" fill="#383838" textLength="209.4" lengthAdjust="spacingAndGlyphs">Motif analysis with the top enriched DNA transcription</text>
<text transform="translate(435.30,299.60) scale(1,1.06)" x="0" y="0" font-size="8.85" text-anchor="middle" fill="#383838" textLength="131.8" lengthAdjust="spacingAndGlyphs">factor and micro-RNA binding site</text>
<text transform="translate(414.30,317.90) scale(1,1.06)" x="0" y="0" font-size="8.95" text-anchor="end" fill="#383838">YNGTTNNNATT UNKNOWN</text>
<text transform="translate(414.30,327.71) scale(1,1.06)" x="0" y="0" font-size="8.95" text-anchor="end" fill="#383838">V$P300 01</text>
<text transform="translate(414.30,337.52) scale(1,1.06)" x="0" y="0" font-size="8.95" text-anchor="end" fill="#383838">TAGCTTT,MIR-9</text>
<text transform="translate(414.30,347.33) scale(1,1.06)" x="0" y="0" font-size="8.95" text-anchor="end" fill="#383838">AACTTT UNKNOWN</text>
<text transform="translate(414.30,357.14) scale(1,1.06)" x="0" y="0" font-size="8.95" text-anchor="end" fill="#383838">TGAATGT,MIR-181A,B,C,D</text>
<text transform="translate(414.30,366.95) scale(1,1.06)" x="0" y="0" font-size="8.95" text-anchor="end" fill="#383838">V$OCT1 03</text>
<text transform="translate(414.30,376.76) scale(1,1.06)" x="0" y="0" font-size="8.95" text-anchor="end" fill="#383838">CAGTATT,MIR-200B,C,MIR-429</text>
<text transform="translate(414.30,386.57) scale(1,1.06)" x="0" y="0" font-size="8.95" text-anchor="end" fill="#383838">AAGCCAT,MIR-135A,B</text>
<text transform="translate(414.30,396.38) scale(1,1.06)" x="0" y="0" font-size="8.95" text-anchor="end" fill="#383838">ATGTTAA,MIR-302C</text>
<text transform="translate(414.30,406.19) scale(1,1.06)" x="0" y="0" font-size="8.95" text-anchor="end" fill="#383838">ATGTACA,MIR-493</text>
<text transform="translate(414.30,416.00) scale(1,1.06)" x="0" y="0" font-size="8.95" text-anchor="end" fill="#383838">V$GATA1 03</text>
<text transform="translate(414.30,425.81) scale(1,1.06)" x="0" y="0" font-size="8.95" text-anchor="end" fill="#383838">AAGCAAT,MIR-137</text>
<text transform="translate(414.30,435.62) scale(1,1.06)" x="0" y="0" font-size="8.95" text-anchor="end" fill="#383838">GCANCTGNY V$MYOD Q6</text>
<text transform="translate(414.30,445.43) scale(1,1.06)" x="0" y="0" font-size="8.95" text-anchor="end" fill="#383838">V$CART1 01</text>
<text transform="translate(414.30,455.24) scale(1,1.06)" x="0" y="0" font-size="8.95" text-anchor="end" fill="#383838">V$PBX1 01</text>
<text transform="translate(414.30,465.05) scale(1,1.06)" x="0" y="0" font-size="8.95" text-anchor="end" fill="#383838">TTGTTT V$FOXO4 01</text>
<text transform="translate(414.30,474.86) scale(1,1.06)" x="0" y="0" font-size="8.95" text-anchor="end" fill="#383838">V$SRY 02</text>
<text transform="translate(414.30,484.67) scale(1,1.06)" x="0" y="0" font-size="8.95" text-anchor="end" fill="#383838">GTGGTGA,MIR-197</text>
<text transform="translate(414.30,494.48) scale(1,1.06)" x="0" y="0" font-size="8.95" text-anchor="end" fill="#383838">V$CP2 01</text>
<text transform="translate(414.30,504.29) scale(1,1.06)" x="0" y="0" font-size="8.95" text-anchor="end" fill="#383838">V$SOX5 01</text>
<text transform="translate(414.30,514.10) scale(1,1.06)" x="0" y="0" font-size="8.95" text-anchor="end" fill="#383838">CTGCAGY UNKNOWN</text>
<text transform="translate(414.30,523.91) scale(1,1.06)" x="0" y="0" font-size="8.95" text-anchor="end" fill="#383838">CCATCCA,MIR-432</text>
<text transform="translate(414.30,533.72) scale(1,1.06)" x="0" y="0" font-size="8.95" text-anchor="end" fill="#383838">T,GTTTAC,MIR-30A-5P,</text>
<text transform="translate(412.30,544.20) scale(1,1.06)" x="0" y="0" font-size="8.95" text-anchor="end" fill="#383838">30C,30D,30B,30E-5P</text>
<circle cx="498.80" cy="314.40" r="3.90" fill="#6cc8bd"/>
<circle cx="498.70" cy="324.21" r="3.50" fill="#a8cc40"/>
<circle cx="450.40" cy="334.02" r="3.40" fill="#7cc47c"/>
<circle cx="450.60" cy="343.83" r="7.20" fill="#2d2f8a"/>
<circle cx="445.60" cy="353.64" r="4.00" fill="#4070b8"/>
<circle cx="445.00" cy="363.45" r="3.00" fill="#6cc49c"/>
<circle cx="445.00" cy="373.26" r="4.00" fill="#3f6ab5"/>
<circle cx="443.00" cy="383.07" r="3.40" fill="#3ab0e6"/>
<circle cx="443.00" cy="392.88" r="3.20" fill="#6cc6c0"/>
<circle cx="443.00" cy="402.69" r="3.40" fill="#3ab6ec"/>
<circle cx="443.00" cy="412.50" r="3.20" fill="#6cc6c0"/>
<circle cx="443.00" cy="422.31" r="3.20" fill="#6cc4a4"/>
<circle cx="443.00" cy="432.12" r="5.20" fill="#33458f"/>
<circle cx="442.00" cy="441.93" r="3.20" fill="#6cc4a4"/>
<circle cx="438.60" cy="451.74" r="3.20" fill="#4ebde0"/>
<circle cx="438.40" cy="461.55" r="7.40" fill="#2d2f8a"/>
<circle cx="438.40" cy="471.36" r="3.40" fill="#4ec0e0"/>
<circle cx="436.00" cy="481.17" r="2.40" fill="#cc2828"/>
<circle cx="434.00" cy="490.98" r="3.40" fill="#3ab6e6"/>
<circle cx="427.60" cy="500.79" r="3.40" fill="#34b6ee"/>
<circle cx="427.00" cy="510.60" r="5.00" fill="#3f5fb0"/>
<circle cx="426.00" cy="520.41" r="2.20" fill="#a02020"/>
<circle cx="423.60" cy="530.22" r="4.60" fill="#3f5fb5"/>
<text x="456.40" y="512.60" font-size="6.7" text-anchor="start" fill="#383838" textLength="35.6" lengthAdjust="spacingAndGlyphs">Marker Size</text>
<text x="454.40" y="522.00" font-size="6.7" text-anchor="start" fill="#383838" textLength="43.0" lengthAdjust="spacingAndGlyphs">(Gene- Count)</text>
<circle cx="441.60" cy="542.60" r="2.00" fill="#1e1e1e"/>
<text x="442.00" y="556.80" font-size="6.7" text-anchor="middle" fill="#383838">7</text>
<circle cx="456.00" cy="542.60" r="3.80" fill="#1e1e1e"/>
<text x="456.00" y="556.80" font-size="6.7" text-anchor="middle" fill="#383838">25</text>
<circle cx="469.60" cy="542.60" r="5.40" fill="#1e1e1e"/>
<text x="471.60" y="556.80" font-size="6.7" text-anchor="middle" fill="#383838">44</text>
<circle cx="483.60" cy="542.60" r="6.40" fill="#1e1e1e"/>
<text x="483.00" y="556.80" font-size="6.7" text-anchor="middle" fill="#383838">62</text>
<circle cx="497.40" cy="542.60" r="7.20" fill="#1e1e1e"/>
<text x="498.60" y="556.80" font-size="6.7" text-anchor="middle" fill="#383838">80</text>
<text transform="translate(432.10,571.60) scale(1,1.06)" x="0" y="0" font-size="8.8" text-anchor="middle" fill="#383838">1.4</text>
<text transform="translate(450.70,571.60) scale(1,1.06)" x="0" y="0" font-size="8.8" text-anchor="middle" fill="#383838">1.6</text>
<text transform="translate(469.30,571.60) scale(1,1.06)" x="0" y="0" font-size="8.8" text-anchor="middle" fill="#383838">1.8</text>
<text transform="translate(487.90,571.60) scale(1,1.06)" x="0" y="0" font-size="8.8" text-anchor="middle" fill="#383838">2</text>
<text transform="translate(506.50,571.60) scale(1,1.06)" x="0" y="0" font-size="8.8" text-anchor="middle" fill="#383838">2.2</text>
<text transform="translate(466.20,579.00) scale(1,1.06)" x="0" y="0" font-size="8.8" text-anchor="middle" fill="#383838" textLength="48.4" lengthAdjust="spacingAndGlyphs">-log10(FDR)</text>
<defs><linearGradient id="g4" x1="0" y1="1" x2="0" y2="0"><stop offset="0" stop-color="#2e3585"/><stop offset="0.13" stop-color="#3a4a98"/><stop offset="0.22" stop-color="#3d60b0"/><stop offset="0.28" stop-color="#3d7ac0"/><stop offset="0.335" stop-color="#3cb8e8"/><stop offset="0.42" stop-color="#5cc0c0"/><stop offset="0.46" stop-color="#70c0a0"/><stop offset="0.515" stop-color="#88c468"/><stop offset="0.565" stop-color="#b0cc40"/><stop offset="0.645" stop-color="#f0e424"/><stop offset="0.7" stop-color="#f5c020"/><stop offset="0.74" stop-color="#f08e28"/><stop offset="0.8" stop-color="#eb6a2c"/><stop offset="0.88" stop-color="#e83030"/><stop offset="1.0" stop-color="#8b2525"/></linearGradient></defs>
<rect x="516.00" y="307.00" width="5.80" height="252.50" fill="url(#g4)"/>
<line x1="521.80" y1="329.40" x2="520.60" y2="329.40" stroke="#5a5a5a" stroke-width="0.6"/>
<text x="523.90" y="331.70" font-size="6.5" text-anchor="start" fill="#383838">0.11</text>
<line x1="521.80" y1="361.90" x2="520.60" y2="361.90" stroke="#5a5a5a" stroke-width="0.6"/>
<text x="523.90" y="364.20" font-size="6.5" text-anchor="start" fill="#383838">0.1</text>
<line x1="521.80" y1="394.40" x2="520.60" y2="394.40" stroke="#5a5a5a" stroke-width="0.6"/>
<text x="523.90" y="396.70" font-size="6.5" text-anchor="start" fill="#383838">0.09</text>
<line x1="521.80" y1="426.90" x2="520.60" y2="426.90" stroke="#5a5a5a" stroke-width="0.6"/>
<text x="523.90" y="429.20" font-size="6.5" text-anchor="start" fill="#383838">0.08</text>
<line x1="521.80" y1="459.40" x2="520.60" y2="459.40" stroke="#5a5a5a" stroke-width="0.6"/>
<text x="523.90" y="461.70" font-size="6.5" text-anchor="start" fill="#383838">0.07</text>
<line x1="521.80" y1="491.90" x2="520.60" y2="491.90" stroke="#5a5a5a" stroke-width="0.6"/>
<text x="523.90" y="494.20" font-size="6.5" text-anchor="start" fill="#383838">0.06</text>
<line x1="521.80" y1="524.40" x2="520.60" y2="524.40" stroke="#5a5a5a" stroke-width="0.6"/>
<text x="523.90" y="526.70" font-size="6.5" text-anchor="start" fill="#383838">0.05</text>
<line x1="521.80" y1="556.90" x2="520.60" y2="556.90" stroke="#5a5a5a" stroke-width="0.6"/>
<text x="523.90" y="559.20" font-size="6.5" text-anchor="start" fill="#383838">0.04</text>
<text transform="translate(545.00,432.60) rotate(-90)" x="0" y="0" font-size="6.7" text-anchor="middle" fill="#383838">DEG Pathway Hit Ratio</text>
<text transform="translate(449.50,610.00) scale(1,1.06)" x="0" y="0" font-size="9.0" text-anchor="middle" fill="#383838">(e)</text>
</svg></body></html>
